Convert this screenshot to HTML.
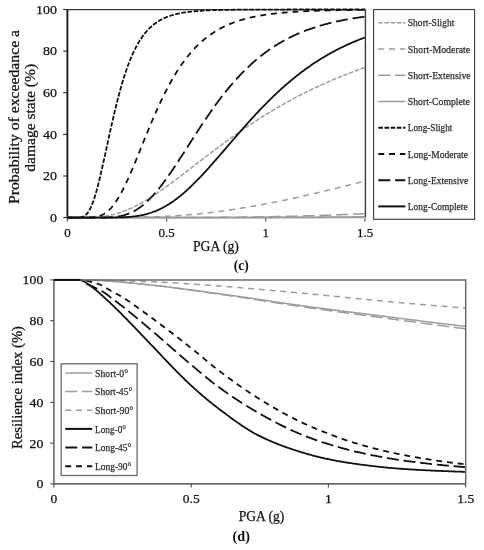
<!DOCTYPE html>
<html><head><meta charset="utf-8"><title>Fragility and resilience curves</title>
<style>html,body{margin:0;padding:0;background:#fff;}svg{display:block;}text{font-family:"Liberation Serif","DejaVu Serif",serif;}</style></head><body>
<svg width="484" height="550" viewBox="0 0 484 550">
<rect x="0" y="0" width="484" height="550" fill="#fff"/>
<g fill="#111" stroke="#111" stroke-width="0.25">
<g id="chart-c">
<line x1="67.4" y1="217.6" x2="365.0" y2="217.6" stroke="#999" stroke-width="1.5"/>
<path d="M67.4,9.6 H365.4 V217.6" fill="none" stroke="#3a3a3a" stroke-width="1.4"/>
<line x1="67.4" y1="9.5" x2="67.4" y2="217.6" stroke="#111" stroke-width="1.8"/>
<path d="M67.40,217.60 L67.50,217.60 L68.24,217.60 L68.99,217.60 L69.74,217.60 L70.48,217.60 L71.23,217.60 L71.97,217.60 L72.72,217.60 L73.46,217.60 L74.21,217.60 L74.96,217.60 L75.70,217.60 L76.45,217.60 L77.19,217.60 L77.94,217.60 L78.68,217.60 L79.43,217.60 L80.17,217.60 L80.92,217.60 L81.67,217.60 L82.41,217.60 L83.16,217.60 L83.90,217.60 L84.65,217.60 L85.39,217.60 L86.14,217.60 L86.89,217.60 L87.63,217.60 L88.38,217.60 L89.12,217.60 L89.87,217.60 L90.61,217.60 L91.36,217.60 L92.10,217.60 L92.85,217.60 L93.60,217.60 L94.34,217.60 L95.09,217.60 L95.83,217.60 L96.58,217.60 L97.32,217.60 L98.07,217.60 L98.82,217.60 L99.56,217.60 L100.31,217.60 L101.05,217.60 L101.80,217.60 L102.54,217.60 L103.29,217.60 L104.03,217.60 L104.78,217.60 L105.53,217.60 L106.27,217.60 L107.02,217.60 L107.76,217.60 L108.51,217.60 L109.25,217.60 L110.00,217.60 L110.74,217.60 L111.49,217.60 L112.24,217.60 L112.98,217.60 L113.73,217.60 L114.47,217.60 L115.22,217.60 L115.96,217.60 L116.71,217.60 L117.46,217.60 L118.20,217.60 L118.95,217.60 L119.69,217.60 L120.44,217.60 L121.18,217.60 L121.93,217.60 L122.67,217.60 L123.42,217.60 L124.17,217.60 L124.91,217.60 L125.66,217.60 L126.40,217.60 L127.15,217.60 L127.89,217.60 L128.64,217.60 L129.39,217.60 L130.13,217.60 L130.88,217.60 L131.62,217.60 L132.37,217.60 L133.11,217.60 L133.86,217.60 L134.60,217.60 L135.35,217.60 L136.10,217.60 L136.84,217.60 L137.59,217.60 L138.33,217.60 L139.08,217.60 L139.82,217.60 L140.57,217.60 L141.32,217.60 L142.06,217.60 L142.81,217.60 L143.55,217.60 L144.30,217.60 L145.04,217.60 L145.79,217.60 L146.53,217.60 L147.28,217.60 L148.03,217.60 L148.77,217.60 L149.52,217.60 L150.26,217.60 L151.01,217.60 L151.75,217.60 L152.50,217.60 L153.25,217.60 L153.99,217.60 L154.74,217.60 L155.48,217.60 L156.23,217.60 L156.97,217.60 L157.72,217.60 L158.46,217.60 L159.21,217.60 L159.96,217.60 L160.70,217.60 L161.45,217.60 L162.19,217.60 L162.94,217.60 L163.68,217.60 L164.43,217.60 L165.17,217.60 L165.92,217.60 L166.67,217.60 L167.41,217.60 L168.16,217.60 L168.90,217.60 L169.65,217.60 L170.39,217.60 L171.14,217.60 L171.89,217.60 L172.63,217.60 L173.38,217.60 L174.12,217.60 L174.87,217.60 L175.61,217.60 L176.36,217.60 L177.10,217.60 L177.85,217.60 L178.60,217.60 L179.34,217.60 L180.09,217.60 L180.83,217.60 L181.58,217.60 L182.32,217.60 L183.07,217.59 L183.82,217.59 L184.56,217.59 L185.31,217.59 L186.05,217.59 L186.80,217.59 L187.54,217.59 L188.29,217.59 L189.03,217.59 L189.78,217.59 L190.53,217.59 L191.27,217.59 L192.02,217.59 L192.76,217.59 L193.51,217.59 L194.25,217.59 L195.00,217.59 L195.75,217.59 L196.49,217.59 L197.24,217.59 L197.98,217.59 L198.73,217.59 L199.47,217.59 L200.22,217.59 L200.96,217.59 L201.71,217.59 L202.46,217.59 L203.20,217.59 L203.95,217.59 L204.69,217.59 L205.44,217.59 L206.18,217.58 L206.93,217.58 L207.68,217.58 L208.42,217.58 L209.17,217.58 L209.91,217.58 L210.66,217.58 L211.40,217.58 L212.15,217.58 L212.89,217.58 L213.64,217.58 L214.39,217.58 L215.13,217.58 L215.88,217.58 L216.62,217.58 L217.37,217.58 L218.11,217.58 L218.86,217.58 L219.60,217.57 L220.35,217.57 L221.10,217.57 L221.84,217.57 L222.59,217.57 L223.33,217.57 L224.08,217.57 L224.82,217.57 L225.57,217.57 L226.32,217.57 L227.06,217.57 L227.81,217.57 L228.55,217.57 L229.30,217.56 L230.04,217.56 L230.79,217.56 L231.53,217.56 L232.28,217.56 L233.03,217.56 L233.77,217.56 L234.52,217.56 L235.26,217.56 L236.01,217.56 L236.75,217.55 L237.50,217.55 L238.25,217.55 L238.99,217.55 L239.74,217.55 L240.48,217.55 L241.23,217.55 L241.97,217.55 L242.72,217.55 L243.46,217.54 L244.21,217.54 L244.96,217.54 L245.70,217.54 L246.45,217.54 L247.19,217.54 L247.94,217.54 L248.68,217.53 L249.43,217.53 L250.18,217.53 L250.92,217.53 L251.67,217.53 L252.41,217.53 L253.16,217.53 L253.90,217.52 L254.65,217.52 L255.39,217.52 L256.14,217.52 L256.89,217.52 L257.63,217.52 L258.38,217.51 L259.12,217.51 L259.87,217.51 L260.61,217.51 L261.36,217.51 L262.10,217.51 L262.85,217.50 L263.60,217.50 L264.34,217.50 L265.09,217.50 L265.83,217.50 L266.58,217.49 L267.32,217.49 L268.07,217.49 L268.82,217.49 L269.56,217.49 L270.31,217.48 L271.05,217.48 L271.80,217.48 L272.54,217.48 L273.29,217.47 L274.03,217.47 L274.78,217.47 L275.53,217.47 L276.27,217.46 L277.02,217.46 L277.76,217.46 L278.51,217.46 L279.25,217.45 L280.00,217.45 L280.75,217.45 L281.49,217.45 L282.24,217.44 L282.98,217.44 L283.73,217.44 L284.47,217.44 L285.22,217.43 L285.96,217.43 L286.71,217.43 L287.46,217.43 L288.20,217.42 L288.95,217.42 L289.69,217.42 L290.44,217.41 L291.18,217.41 L291.93,217.41 L292.68,217.40 L293.42,217.40 L294.17,217.40 L294.91,217.39 L295.66,217.39 L296.40,217.39 L297.15,217.38 L297.89,217.38 L298.64,217.38 L299.39,217.37 L300.13,217.37 L300.88,217.37 L301.62,217.36 L302.37,217.36 L303.11,217.36 L303.86,217.35 L304.61,217.35 L305.35,217.35 L306.10,217.34 L306.84,217.34 L307.59,217.33 L308.33,217.33 L309.08,217.33 L309.82,217.32 L310.57,217.32 L311.32,217.31 L312.06,217.31 L312.81,217.31 L313.55,217.30 L314.30,217.30 L315.04,217.29 L315.79,217.29 L316.53,217.28 L317.28,217.28 L318.03,217.28 L318.77,217.27 L319.52,217.27 L320.26,217.26 L321.01,217.26 L321.75,217.25 L322.50,217.25 L323.25,217.24 L323.99,217.24 L324.74,217.23 L325.48,217.23 L326.23,217.22 L326.97,217.22 L327.72,217.21 L328.46,217.21 L329.21,217.20 L329.96,217.20 L330.70,217.19 L331.45,217.19 L332.19,217.18 L332.94,217.18 L333.68,217.17 L334.43,217.17 L335.18,217.16 L335.92,217.16 L336.67,217.15 L337.41,217.14 L338.16,217.14 L338.90,217.13 L339.65,217.13 L340.39,217.12 L341.14,217.11 L341.89,217.11 L342.63,217.10 L343.38,217.10 L344.12,217.09 L344.87,217.08 L345.61,217.08 L346.36,217.07 L347.11,217.07 L347.85,217.06 L348.60,217.05 L349.34,217.05 L350.09,217.04 L350.83,217.03 L351.58,217.03 L352.32,217.02 L353.07,217.01 L353.82,217.01 L354.56,217.00 L355.31,216.99 L356.05,216.99 L356.80,216.98 L357.54,216.97 L358.29,216.97 L359.04,216.96 L359.78,216.95 L360.53,216.94 L361.27,216.94 L362.02,216.93 L362.76,216.92 L363.51,216.92 L364.25,216.91 L365.00,216.90" fill="none" stroke="#9c9c9c" stroke-width="1.8"/>
<path d="M67.40,217.60 L67.50,217.60 L68.24,217.60 L68.99,217.60 L69.74,217.60 L70.48,217.60 L71.23,217.60 L71.97,217.60 L72.72,217.60 L73.46,217.60 L74.21,217.60 L74.96,217.60 L75.70,217.60 L76.45,217.60 L77.19,217.60 L77.94,217.60 L78.68,217.60 L79.43,217.60 L80.17,217.60 L80.92,217.60 L81.67,217.60 L82.41,217.60 L83.16,217.60 L83.90,217.60 L84.65,217.60 L85.39,217.60 L86.14,217.60 L86.89,217.60 L87.63,217.60 L88.38,217.60 L89.12,217.60 L89.87,217.60 L90.61,217.60 L91.36,217.60 L92.10,217.60 L92.85,217.60 L93.60,217.60 L94.34,217.60 L95.09,217.60 L95.83,217.60 L96.58,217.60 L97.32,217.60 L98.07,217.60 L98.82,217.60 L99.56,217.60 L100.31,217.60 L101.05,217.60 L101.80,217.60 L102.54,217.60 L103.29,217.60 L104.03,217.60 L104.78,217.60 L105.53,217.60 L106.27,217.60 L107.02,217.60 L107.76,217.60 L108.51,217.60 L109.25,217.60 L110.00,217.60 L110.74,217.60 L111.49,217.60 L112.24,217.60 L112.98,217.60 L113.73,217.60 L114.47,217.60 L115.22,217.60 L115.96,217.60 L116.71,217.60 L117.46,217.60 L118.20,217.60 L118.95,217.60 L119.69,217.60 L120.44,217.60 L121.18,217.60 L121.93,217.60 L122.67,217.60 L123.42,217.60 L124.17,217.60 L124.91,217.60 L125.66,217.60 L126.40,217.60 L127.15,217.60 L127.89,217.60 L128.64,217.60 L129.39,217.60 L130.13,217.60 L130.88,217.60 L131.62,217.60 L132.37,217.60 L133.11,217.60 L133.86,217.60 L134.60,217.60 L135.35,217.60 L136.10,217.60 L136.84,217.60 L137.59,217.60 L138.33,217.60 L139.08,217.60 L139.82,217.60 L140.57,217.60 L141.32,217.59 L142.06,217.59 L142.81,217.59 L143.55,217.59 L144.30,217.59 L145.04,217.59 L145.79,217.59 L146.53,217.59 L147.28,217.59 L148.03,217.59 L148.77,217.59 L149.52,217.59 L150.26,217.59 L151.01,217.59 L151.75,217.59 L152.50,217.59 L153.25,217.59 L153.99,217.59 L154.74,217.59 L155.48,217.59 L156.23,217.59 L156.97,217.58 L157.72,217.58 L158.46,217.58 L159.21,217.58 L159.96,217.58 L160.70,217.58 L161.45,217.58 L162.19,217.58 L162.94,217.58 L163.68,217.58 L164.43,217.58 L165.17,217.57 L165.92,217.57 L166.67,217.57 L167.41,217.57 L168.16,217.57 L168.90,217.57 L169.65,217.57 L170.39,217.57 L171.14,217.56 L171.89,217.56 L172.63,217.56 L173.38,217.56 L174.12,217.56 L174.87,217.56 L175.61,217.56 L176.36,217.55 L177.10,217.55 L177.85,217.55 L178.60,217.55 L179.34,217.55 L180.09,217.54 L180.83,217.54 L181.58,217.54 L182.32,217.54 L183.07,217.54 L183.82,217.53 L184.56,217.53 L185.31,217.53 L186.05,217.53 L186.80,217.52 L187.54,217.52 L188.29,217.52 L189.03,217.52 L189.78,217.51 L190.53,217.51 L191.27,217.51 L192.02,217.51 L192.76,217.50 L193.51,217.50 L194.25,217.50 L195.00,217.49 L195.75,217.49 L196.49,217.49 L197.24,217.48 L197.98,217.48 L198.73,217.48 L199.47,217.47 L200.22,217.47 L200.96,217.47 L201.71,217.46 L202.46,217.46 L203.20,217.45 L203.95,217.45 L204.69,217.45 L205.44,217.44 L206.18,217.44 L206.93,217.43 L207.68,217.43 L208.42,217.43 L209.17,217.42 L209.91,217.42 L210.66,217.41 L211.40,217.41 L212.15,217.40 L212.89,217.40 L213.64,217.39 L214.39,217.39 L215.13,217.38 L215.88,217.38 L216.62,217.37 L217.37,217.36 L218.11,217.36 L218.86,217.35 L219.60,217.35 L220.35,217.34 L221.10,217.34 L221.84,217.33 L222.59,217.32 L223.33,217.32 L224.08,217.31 L224.82,217.30 L225.57,217.30 L226.32,217.29 L227.06,217.28 L227.81,217.28 L228.55,217.27 L229.30,217.26 L230.04,217.26 L230.79,217.25 L231.53,217.24 L232.28,217.23 L233.03,217.23 L233.77,217.22 L234.52,217.21 L235.26,217.20 L236.01,217.19 L236.75,217.19 L237.50,217.18 L238.25,217.17 L238.99,217.16 L239.74,217.15 L240.48,217.14 L241.23,217.13 L241.97,217.13 L242.72,217.12 L243.46,217.11 L244.21,217.10 L244.96,217.09 L245.70,217.08 L246.45,217.07 L247.19,217.06 L247.94,217.05 L248.68,217.04 L249.43,217.03 L250.18,217.02 L250.92,217.01 L251.67,217.00 L252.41,216.99 L253.16,216.98 L253.90,216.97 L254.65,216.95 L255.39,216.94 L256.14,216.93 L256.89,216.92 L257.63,216.91 L258.38,216.90 L259.12,216.88 L259.87,216.87 L260.61,216.86 L261.36,216.85 L262.10,216.84 L262.85,216.82 L263.60,216.81 L264.34,216.80 L265.09,216.79 L265.83,216.77 L266.58,216.76 L267.32,216.75 L268.07,216.73 L268.82,216.72 L269.56,216.70 L270.31,216.69 L271.05,216.68 L271.80,216.66 L272.54,216.65 L273.29,216.63 L274.03,216.62 L274.78,216.60 L275.53,216.59 L276.27,216.57 L277.02,216.56 L277.76,216.54 L278.51,216.53 L279.25,216.51 L280.00,216.50 L280.75,216.48 L281.49,216.46 L282.24,216.45 L282.98,216.43 L283.73,216.41 L284.47,216.40 L285.22,216.38 L285.96,216.36 L286.71,216.35 L287.46,216.33 L288.20,216.31 L288.95,216.29 L289.69,216.28 L290.44,216.26 L291.18,216.24 L291.93,216.22 L292.68,216.20 L293.42,216.19 L294.17,216.17 L294.91,216.15 L295.66,216.13 L296.40,216.11 L297.15,216.09 L297.89,216.07 L298.64,216.05 L299.39,216.03 L300.13,216.01 L300.88,215.99 L301.62,215.97 L302.37,215.95 L303.11,215.93 L303.86,215.91 L304.61,215.89 L305.35,215.87 L306.10,215.85 L306.84,215.83 L307.59,215.80 L308.33,215.78 L309.08,215.76 L309.82,215.74 L310.57,215.72 L311.32,215.69 L312.06,215.67 L312.81,215.65 L313.55,215.63 L314.30,215.60 L315.04,215.58 L315.79,215.56 L316.53,215.53 L317.28,215.51 L318.03,215.48 L318.77,215.46 L319.52,215.44 L320.26,215.41 L321.01,215.39 L321.75,215.36 L322.50,215.34 L323.25,215.31 L323.99,215.29 L324.74,215.26 L325.48,215.24 L326.23,215.21 L326.97,215.19 L327.72,215.16 L328.46,215.13 L329.21,215.11 L329.96,215.08 L330.70,215.05 L331.45,215.03 L332.19,215.00 L332.94,214.97 L333.68,214.95 L334.43,214.92 L335.18,214.89 L335.92,214.86 L336.67,214.84 L337.41,214.81 L338.16,214.78 L338.90,214.75 L339.65,214.72 L340.39,214.69 L341.14,214.66 L341.89,214.63 L342.63,214.61 L343.38,214.58 L344.12,214.55 L344.87,214.52 L345.61,214.49 L346.36,214.46 L347.11,214.43 L347.85,214.40 L348.60,214.36 L349.34,214.33 L350.09,214.30 L350.83,214.27 L351.58,214.24 L352.32,214.21 L353.07,214.18 L353.82,214.14 L354.56,214.11 L355.31,214.08 L356.05,214.05 L356.80,214.02 L357.54,213.98 L358.29,213.95 L359.04,213.92 L359.78,213.88 L360.53,213.85 L361.27,213.82 L362.02,213.78 L362.76,213.75 L363.51,213.71 L364.25,213.68 L365.00,213.65" fill="none" stroke="#9c9c9c" stroke-width="1.5" stroke-dasharray="12,4.8"/>
<path d="M67.40,217.60 L67.50,217.60 L68.24,217.60 L68.99,217.60 L69.74,217.60 L70.48,217.60 L71.23,217.60 L71.97,217.60 L72.72,217.60 L73.46,217.60 L74.21,217.60 L74.96,217.60 L75.70,217.60 L76.45,217.60 L77.19,217.60 L77.94,217.60 L78.68,217.60 L79.43,217.60 L80.17,217.60 L80.92,217.60 L81.67,217.60 L82.41,217.60 L83.16,217.60 L83.90,217.60 L84.65,217.60 L85.39,217.60 L86.14,217.60 L86.89,217.60 L87.63,217.60 L88.38,217.60 L89.12,217.60 L89.87,217.60 L90.61,217.60 L91.36,217.60 L92.10,217.60 L92.85,217.60 L93.60,217.60 L94.34,217.60 L95.09,217.60 L95.83,217.60 L96.58,217.60 L97.32,217.60 L98.07,217.60 L98.82,217.60 L99.56,217.60 L100.31,217.59 L101.05,217.59 L101.80,217.59 L102.54,217.59 L103.29,217.59 L104.03,217.59 L104.78,217.59 L105.53,217.59 L106.27,217.59 L107.02,217.58 L107.76,217.58 L108.51,217.58 L109.25,217.58 L110.00,217.58 L110.74,217.57 L111.49,217.57 L112.24,217.57 L112.98,217.57 L113.73,217.56 L114.47,217.56 L115.22,217.56 L115.96,217.55 L116.71,217.55 L117.46,217.54 L118.20,217.54 L118.95,217.54 L119.69,217.53 L120.44,217.53 L121.18,217.52 L121.93,217.51 L122.67,217.51 L123.42,217.50 L124.17,217.49 L124.91,217.49 L125.66,217.48 L126.40,217.47 L127.15,217.46 L127.89,217.45 L128.64,217.45 L129.39,217.44 L130.13,217.43 L130.88,217.42 L131.62,217.41 L132.37,217.39 L133.11,217.38 L133.86,217.37 L134.60,217.36 L135.35,217.35 L136.10,217.33 L136.84,217.32 L137.59,217.30 L138.33,217.29 L139.08,217.27 L139.82,217.26 L140.57,217.24 L141.32,217.22 L142.06,217.21 L142.81,217.19 L143.55,217.17 L144.30,217.15 L145.04,217.13 L145.79,217.11 L146.53,217.09 L147.28,217.07 L148.03,217.05 L148.77,217.02 L149.52,217.00 L150.26,216.98 L151.01,216.95 L151.75,216.93 L152.50,216.90 L153.25,216.87 L153.99,216.85 L154.74,216.82 L155.48,216.79 L156.23,216.76 L156.97,216.73 L157.72,216.70 L158.46,216.67 L159.21,216.64 L159.96,216.60 L160.70,216.57 L161.45,216.54 L162.19,216.50 L162.94,216.47 L163.68,216.43 L164.43,216.39 L165.17,216.35 L165.92,216.32 L166.67,216.28 L167.41,216.24 L168.16,216.19 L168.90,216.15 L169.65,216.11 L170.39,216.07 L171.14,216.02 L171.89,215.98 L172.63,215.93 L173.38,215.89 L174.12,215.84 L174.87,215.79 L175.61,215.74 L176.36,215.69 L177.10,215.64 L177.85,215.59 L178.60,215.54 L179.34,215.49 L180.09,215.43 L180.83,215.38 L181.58,215.32 L182.32,215.27 L183.07,215.21 L183.82,215.15 L184.56,215.09 L185.31,215.03 L186.05,214.97 L186.80,214.91 L187.54,214.85 L188.29,214.79 L189.03,214.73 L189.78,214.66 L190.53,214.60 L191.27,214.53 L192.02,214.46 L192.76,214.40 L193.51,214.33 L194.25,214.26 L195.00,214.19 L195.75,214.12 L196.49,214.04 L197.24,213.97 L197.98,213.90 L198.73,213.82 L199.47,213.75 L200.22,213.67 L200.96,213.59 L201.71,213.52 L202.46,213.44 L203.20,213.36 L203.95,213.28 L204.69,213.20 L205.44,213.12 L206.18,213.03 L206.93,212.95 L207.68,212.86 L208.42,212.78 L209.17,212.69 L209.91,212.61 L210.66,212.52 L211.40,212.43 L212.15,212.34 L212.89,212.25 L213.64,212.16 L214.39,212.07 L215.13,211.97 L215.88,211.88 L216.62,211.79 L217.37,211.69 L218.11,211.59 L218.86,211.50 L219.60,211.40 L220.35,211.30 L221.10,211.20 L221.84,211.10 L222.59,211.00 L223.33,210.90 L224.08,210.80 L224.82,210.69 L225.57,210.59 L226.32,210.49 L227.06,210.38 L227.81,210.27 L228.55,210.17 L229.30,210.06 L230.04,209.95 L230.79,209.84 L231.53,209.73 L232.28,209.62 L233.03,209.51 L233.77,209.39 L234.52,209.28 L235.26,209.17 L236.01,209.05 L236.75,208.94 L237.50,208.82 L238.25,208.70 L238.99,208.59 L239.74,208.47 L240.48,208.35 L241.23,208.23 L241.97,208.11 L242.72,207.99 L243.46,207.86 L244.21,207.74 L244.96,207.62 L245.70,207.49 L246.45,207.37 L247.19,207.24 L247.94,207.12 L248.68,206.99 L249.43,206.86 L250.18,206.73 L250.92,206.60 L251.67,206.47 L252.41,206.34 L253.16,206.21 L253.90,206.08 L254.65,205.95 L255.39,205.81 L256.14,205.68 L256.89,205.55 L257.63,205.41 L258.38,205.27 L259.12,205.14 L259.87,205.00 L260.61,204.86 L261.36,204.72 L262.10,204.59 L262.85,204.45 L263.60,204.31 L264.34,204.16 L265.09,204.02 L265.83,203.88 L266.58,203.74 L267.32,203.59 L268.07,203.45 L268.82,203.31 L269.56,203.16 L270.31,203.01 L271.05,202.87 L271.80,202.72 L272.54,202.57 L273.29,202.43 L274.03,202.28 L274.78,202.13 L275.53,201.98 L276.27,201.83 L277.02,201.68 L277.76,201.52 L278.51,201.37 L279.25,201.22 L280.00,201.07 L280.75,200.91 L281.49,200.76 L282.24,200.60 L282.98,200.45 L283.73,200.29 L284.47,200.14 L285.22,199.98 L285.96,199.82 L286.71,199.66 L287.46,199.51 L288.20,199.35 L288.95,199.19 L289.69,199.03 L290.44,198.87 L291.18,198.71 L291.93,198.55 L292.68,198.38 L293.42,198.22 L294.17,198.06 L294.91,197.90 L295.66,197.73 L296.40,197.57 L297.15,197.40 L297.89,197.24 L298.64,197.07 L299.39,196.91 L300.13,196.74 L300.88,196.57 L301.62,196.41 L302.37,196.24 L303.11,196.07 L303.86,195.90 L304.61,195.73 L305.35,195.56 L306.10,195.39 L306.84,195.22 L307.59,195.05 L308.33,194.88 L309.08,194.71 L309.82,194.54 L310.57,194.37 L311.32,194.19 L312.06,194.02 L312.81,193.85 L313.55,193.67 L314.30,193.50 L315.04,193.33 L315.79,193.15 L316.53,192.98 L317.28,192.80 L318.03,192.62 L318.77,192.45 L319.52,192.27 L320.26,192.09 L321.01,191.92 L321.75,191.74 L322.50,191.56 L323.25,191.38 L323.99,191.20 L324.74,191.03 L325.48,190.85 L326.23,190.67 L326.97,190.49 L327.72,190.31 L328.46,190.13 L329.21,189.95 L329.96,189.76 L330.70,189.58 L331.45,189.40 L332.19,189.22 L332.94,189.04 L333.68,188.85 L334.43,188.67 L335.18,188.49 L335.92,188.31 L336.67,188.12 L337.41,187.94 L338.16,187.75 L338.90,187.57 L339.65,187.38 L340.39,187.20 L341.14,187.01 L341.89,186.83 L342.63,186.64 L343.38,186.46 L344.12,186.27 L344.87,186.09 L345.61,185.90 L346.36,185.71 L347.11,185.52 L347.85,185.34 L348.60,185.15 L349.34,184.96 L350.09,184.77 L350.83,184.59 L351.58,184.40 L352.32,184.21 L353.07,184.02 L353.82,183.83 L354.56,183.64 L355.31,183.45 L356.05,183.26 L356.80,183.07 L357.54,182.88 L358.29,182.69 L359.04,182.50 L359.78,182.31 L360.53,182.12 L361.27,181.93 L362.02,181.74 L362.76,181.55 L363.51,181.36 L364.25,181.17 L365.00,180.97" fill="none" stroke="#9c9c9c" stroke-width="1.5" stroke-dasharray="5.9,4.9"/>
<path d="M67.40,217.60 L67.50,217.60 L68.24,217.60 L68.99,217.60 L69.74,217.60 L70.48,217.60 L71.23,217.60 L71.97,217.60 L72.72,217.60 L73.46,217.60 L74.21,217.60 L74.96,217.60 L75.70,217.60 L76.45,217.60 L77.19,217.60 L77.94,217.60 L78.68,217.60 L79.43,217.60 L80.17,217.60 L80.92,217.59 L81.67,217.59 L82.41,217.59 L83.16,217.58 L83.90,217.58 L84.65,217.57 L85.39,217.56 L86.14,217.55 L86.89,217.54 L87.63,217.53 L88.38,217.51 L89.12,217.49 L89.87,217.47 L90.61,217.45 L91.36,217.42 L92.10,217.40 L92.85,217.36 L93.60,217.33 L94.34,217.29 L95.09,217.24 L95.83,217.20 L96.58,217.14 L97.32,217.09 L98.07,217.03 L98.82,216.96 L99.56,216.89 L100.31,216.81 L101.05,216.73 L101.80,216.65 L102.54,216.55 L103.29,216.46 L104.03,216.35 L104.78,216.24 L105.53,216.13 L106.27,216.01 L107.02,215.88 L107.76,215.74 L108.51,215.60 L109.25,215.46 L110.00,215.30 L110.74,215.14 L111.49,214.98 L112.24,214.80 L112.98,214.62 L113.73,214.44 L114.47,214.24 L115.22,214.04 L115.96,213.84 L116.71,213.62 L117.46,213.40 L118.20,213.18 L118.95,212.94 L119.69,212.70 L120.44,212.46 L121.18,212.20 L121.93,211.94 L122.67,211.67 L123.42,211.40 L124.17,211.12 L124.91,210.83 L125.66,210.54 L126.40,210.24 L127.15,209.93 L127.89,209.62 L128.64,209.30 L129.39,208.98 L130.13,208.65 L130.88,208.31 L131.62,207.96 L132.37,207.61 L133.11,207.26 L133.86,206.90 L134.60,206.53 L135.35,206.16 L136.10,205.78 L136.84,205.40 L137.59,205.01 L138.33,204.61 L139.08,204.21 L139.82,203.81 L140.57,203.39 L141.32,202.98 L142.06,202.56 L142.81,202.13 L143.55,201.70 L144.30,201.27 L145.04,200.83 L145.79,200.38 L146.53,199.93 L147.28,199.48 L148.03,199.02 L148.77,198.56 L149.52,198.10 L150.26,197.63 L151.01,197.15 L151.75,196.68 L152.50,196.19 L153.25,195.71 L153.99,195.22 L154.74,194.73 L155.48,194.23 L156.23,193.73 L156.97,193.23 L157.72,192.73 L158.46,192.22 L159.21,191.71 L159.96,191.19 L160.70,190.68 L161.45,190.16 L162.19,189.63 L162.94,189.11 L163.68,188.58 L164.43,188.05 L165.17,187.52 L165.92,186.98 L166.67,186.44 L167.41,185.90 L168.16,185.36 L168.90,184.82 L169.65,184.27 L170.39,183.73 L171.14,183.18 L171.89,182.63 L172.63,182.07 L173.38,181.52 L174.12,180.96 L174.87,180.41 L175.61,179.85 L176.36,179.29 L177.10,178.73 L177.85,178.16 L178.60,177.60 L179.34,177.03 L180.09,176.47 L180.83,175.90 L181.58,175.33 L182.32,174.77 L183.07,174.20 L183.82,173.63 L184.56,173.06 L185.31,172.49 L186.05,171.91 L186.80,171.34 L187.54,170.77 L188.29,170.19 L189.03,169.62 L189.78,169.05 L190.53,168.47 L191.27,167.90 L192.02,167.32 L192.76,166.75 L193.51,166.17 L194.25,165.60 L195.00,165.02 L195.75,164.45 L196.49,163.88 L197.24,163.30 L197.98,162.73 L198.73,162.15 L199.47,161.58 L200.22,161.00 L200.96,160.43 L201.71,159.86 L202.46,159.29 L203.20,158.71 L203.95,158.14 L204.69,157.57 L205.44,157.00 L206.18,156.43 L206.93,155.86 L207.68,155.29 L208.42,154.72 L209.17,154.16 L209.91,153.59 L210.66,153.02 L211.40,152.46 L212.15,151.90 L212.89,151.33 L213.64,150.77 L214.39,150.21 L215.13,149.65 L215.88,149.09 L216.62,148.53 L217.37,147.97 L218.11,147.41 L218.86,146.86 L219.60,146.30 L220.35,145.75 L221.10,145.20 L221.84,144.65 L222.59,144.10 L223.33,143.55 L224.08,143.00 L224.82,142.45 L225.57,141.91 L226.32,141.36 L227.06,140.82 L227.81,140.28 L228.55,139.74 L229.30,139.20 L230.04,138.66 L230.79,138.12 L231.53,137.59 L232.28,137.06 L233.03,136.52 L233.77,135.99 L234.52,135.46 L235.26,134.93 L236.01,134.41 L236.75,133.88 L237.50,133.36 L238.25,132.84 L238.99,132.32 L239.74,131.80 L240.48,131.28 L241.23,130.76 L241.97,130.25 L242.72,129.74 L243.46,129.22 L244.21,128.71 L244.96,128.21 L245.70,127.70 L246.45,127.19 L247.19,126.69 L247.94,126.19 L248.68,125.69 L249.43,125.19 L250.18,124.69 L250.92,124.20 L251.67,123.70 L252.41,123.21 L253.16,122.72 L253.90,122.23 L254.65,121.74 L255.39,121.26 L256.14,120.77 L256.89,120.29 L257.63,119.81 L258.38,119.33 L259.12,118.85 L259.87,118.38 L260.61,117.90 L261.36,117.43 L262.10,116.96 L262.85,116.49 L263.60,116.02 L264.34,115.56 L265.09,115.09 L265.83,114.63 L266.58,114.17 L267.32,113.71 L268.07,113.25 L268.82,112.80 L269.56,112.34 L270.31,111.89 L271.05,111.44 L271.80,110.99 L272.54,110.55 L273.29,110.10 L274.03,109.66 L274.78,109.22 L275.53,108.78 L276.27,108.34 L277.02,107.90 L277.76,107.47 L278.51,107.03 L279.25,106.60 L280.00,106.17 L280.75,105.74 L281.49,105.32 L282.24,104.89 L282.98,104.47 L283.73,104.05 L284.47,103.63 L285.22,103.21 L285.96,102.79 L286.71,102.38 L287.46,101.97 L288.20,101.55 L288.95,101.14 L289.69,100.74 L290.44,100.33 L291.18,99.93 L291.93,99.52 L292.68,99.12 L293.42,98.72 L294.17,98.32 L294.91,97.93 L295.66,97.53 L296.40,97.14 L297.15,96.75 L297.89,96.36 L298.64,95.97 L299.39,95.59 L300.13,95.20 L300.88,94.82 L301.62,94.44 L302.37,94.06 L303.11,93.68 L303.86,93.30 L304.61,92.93 L305.35,92.55 L306.10,92.18 L306.84,91.81 L307.59,91.44 L308.33,91.08 L309.08,90.71 L309.82,90.35 L310.57,89.99 L311.32,89.63 L312.06,89.27 L312.81,88.91 L313.55,88.55 L314.30,88.20 L315.04,87.85 L315.79,87.50 L316.53,87.15 L317.28,86.80 L318.03,86.45 L318.77,86.11 L319.52,85.76 L320.26,85.42 L321.01,85.08 L321.75,84.74 L322.50,84.41 L323.25,84.07 L323.99,83.74 L324.74,83.40 L325.48,83.07 L326.23,82.74 L326.97,82.41 L327.72,82.09 L328.46,81.76 L329.21,81.44 L329.96,81.11 L330.70,80.79 L331.45,80.47 L332.19,80.15 L332.94,79.84 L333.68,79.52 L334.43,79.21 L335.18,78.90 L335.92,78.59 L336.67,78.28 L337.41,77.97 L338.16,77.66 L338.90,77.36 L339.65,77.05 L340.39,76.75 L341.14,76.45 L341.89,76.15 L342.63,75.85 L343.38,75.55 L344.12,75.26 L344.87,74.96 L345.61,74.67 L346.36,74.38 L347.11,74.09 L347.85,73.80 L348.60,73.51 L349.34,73.22 L350.09,72.94 L350.83,72.66 L351.58,72.37 L352.32,72.09 L353.07,71.81 L353.82,71.53 L354.56,71.26 L355.31,70.98 L356.05,70.71 L356.80,70.43 L357.54,70.16 L358.29,69.89 L359.04,69.62 L359.78,69.35 L360.53,69.09 L361.27,68.82 L362.02,68.55 L362.76,68.29 L363.51,68.03 L364.25,67.77 L365.00,67.51" fill="none" stroke="#9c9c9c" stroke-width="1.5" stroke-dasharray="4.6,1.6"/>
<path d="M67.40,217.60 L67.50,217.60 L68.24,217.60 L68.99,217.60 L69.74,217.60 L70.48,217.60 L71.23,217.60 L71.97,217.60 L72.72,217.60 L73.46,217.60 L74.21,217.60 L74.96,217.60 L75.70,217.60 L76.45,217.60 L77.19,217.60 L77.94,217.60 L78.68,217.60 L79.43,217.60 L80.17,217.60 L80.92,217.60 L81.67,217.60 L82.41,217.60 L83.16,217.60 L83.90,217.60 L84.65,217.60 L85.39,217.60 L86.14,217.60 L86.89,217.60 L87.63,217.60 L88.38,217.60 L89.12,217.60 L89.87,217.60 L90.61,217.60 L91.36,217.60 L92.10,217.60 L92.85,217.60 L93.60,217.60 L94.34,217.60 L95.09,217.60 L95.83,217.60 L96.58,217.60 L97.32,217.60 L98.07,217.60 L98.82,217.60 L99.56,217.60 L100.31,217.60 L101.05,217.60 L101.80,217.60 L102.54,217.60 L103.29,217.59 L104.03,217.59 L104.78,217.59 L105.53,217.59 L106.27,217.59 L107.02,217.59 L107.76,217.58 L108.51,217.58 L109.25,217.58 L110.00,217.57 L110.74,217.57 L111.49,217.56 L112.24,217.55 L112.98,217.55 L113.73,217.54 L114.47,217.53 L115.22,217.52 L115.96,217.50 L116.71,217.49 L117.46,217.48 L118.20,217.46 L118.95,217.44 L119.69,217.42 L120.44,217.40 L121.18,217.37 L121.93,217.35 L122.67,217.32 L123.42,217.29 L124.17,217.25 L124.91,217.22 L125.66,217.17 L126.40,217.13 L127.15,217.08 L127.89,217.03 L128.64,216.98 L129.39,216.92 L130.13,216.86 L130.88,216.79 L131.62,216.72 L132.37,216.65 L133.11,216.57 L133.86,216.48 L134.60,216.39 L135.35,216.29 L136.10,216.19 L136.84,216.08 L137.59,215.97 L138.33,215.85 L139.08,215.73 L139.82,215.60 L140.57,215.46 L141.32,215.31 L142.06,215.16 L142.81,215.00 L143.55,214.84 L144.30,214.66 L145.04,214.48 L145.79,214.30 L146.53,214.10 L147.28,213.90 L148.03,213.68 L148.77,213.46 L149.52,213.24 L150.26,213.00 L151.01,212.76 L151.75,212.50 L152.50,212.24 L153.25,211.97 L153.99,211.69 L154.74,211.40 L155.48,211.10 L156.23,210.80 L156.97,210.48 L157.72,210.15 L158.46,209.82 L159.21,209.48 L159.96,209.12 L160.70,208.76 L161.45,208.39 L162.19,208.01 L162.94,207.62 L163.68,207.22 L164.43,206.81 L165.17,206.39 L165.92,205.96 L166.67,205.52 L167.41,205.08 L168.16,204.62 L168.90,204.16 L169.65,203.68 L170.39,203.20 L171.14,202.70 L171.89,202.20 L172.63,201.69 L173.38,201.17 L174.12,200.64 L174.87,200.10 L175.61,199.55 L176.36,198.99 L177.10,198.43 L177.85,197.85 L178.60,197.27 L179.34,196.68 L180.09,196.08 L180.83,195.47 L181.58,194.85 L182.32,194.23 L183.07,193.60 L183.82,192.96 L184.56,192.31 L185.31,191.65 L186.05,190.99 L186.80,190.32 L187.54,189.64 L188.29,188.95 L189.03,188.26 L189.78,187.56 L190.53,186.86 L191.27,186.14 L192.02,185.42 L192.76,184.70 L193.51,183.97 L194.25,183.23 L195.00,182.48 L195.75,181.73 L196.49,180.98 L197.24,180.22 L197.98,179.45 L198.73,178.68 L199.47,177.90 L200.22,177.12 L200.96,176.33 L201.71,175.54 L202.46,174.75 L203.20,173.95 L203.95,173.14 L204.69,172.33 L205.44,171.52 L206.18,170.70 L206.93,169.88 L207.68,169.06 L208.42,168.23 L209.17,167.40 L209.91,166.57 L210.66,165.73 L211.40,164.89 L212.15,164.05 L212.89,163.20 L213.64,162.36 L214.39,161.51 L215.13,160.65 L215.88,159.80 L216.62,158.95 L217.37,158.09 L218.11,157.23 L218.86,156.37 L219.60,155.51 L220.35,154.64 L221.10,153.78 L221.84,152.92 L222.59,152.05 L223.33,151.18 L224.08,150.32 L224.82,149.45 L225.57,148.58 L226.32,147.71 L227.06,146.84 L227.81,145.97 L228.55,145.11 L229.30,144.24 L230.04,143.37 L230.79,142.50 L231.53,141.64 L232.28,140.77 L233.03,139.90 L233.77,139.04 L234.52,138.17 L235.26,137.31 L236.01,136.45 L236.75,135.59 L237.50,134.73 L238.25,133.87 L238.99,133.02 L239.74,132.16 L240.48,131.31 L241.23,130.46 L241.97,129.61 L242.72,128.76 L243.46,127.91 L244.21,127.07 L244.96,126.23 L245.70,125.39 L246.45,124.55 L247.19,123.72 L247.94,122.89 L248.68,122.06 L249.43,121.23 L250.18,120.40 L250.92,119.58 L251.67,118.76 L252.41,117.95 L253.16,117.13 L253.90,116.32 L254.65,115.52 L255.39,114.71 L256.14,113.91 L256.89,113.11 L257.63,112.32 L258.38,111.52 L259.12,110.74 L259.87,109.95 L260.61,109.17 L261.36,108.39 L262.10,107.61 L262.85,106.84 L263.60,106.07 L264.34,105.31 L265.09,104.55 L265.83,103.79 L266.58,103.04 L267.32,102.29 L268.07,101.54 L268.82,100.80 L269.56,100.06 L270.31,99.32 L271.05,98.59 L271.80,97.87 L272.54,97.14 L273.29,96.42 L274.03,95.71 L274.78,95.00 L275.53,94.29 L276.27,93.58 L277.02,92.88 L277.76,92.19 L278.51,91.50 L279.25,90.81 L280.00,90.12 L280.75,89.45 L281.49,88.77 L282.24,88.10 L282.98,87.43 L283.73,86.77 L284.47,86.11 L285.22,85.45 L285.96,84.80 L286.71,84.16 L287.46,83.51 L288.20,82.87 L288.95,82.24 L289.69,81.61 L290.44,80.98 L291.18,80.36 L291.93,79.74 L292.68,79.13 L293.42,78.52 L294.17,77.91 L294.91,77.31 L295.66,76.72 L296.40,76.12 L297.15,75.53 L297.89,74.95 L298.64,74.37 L299.39,73.79 L300.13,73.22 L300.88,72.65 L301.62,72.08 L302.37,71.52 L303.11,70.97 L303.86,70.42 L304.61,69.87 L305.35,69.32 L306.10,68.78 L306.84,68.25 L307.59,67.71 L308.33,67.19 L309.08,66.66 L309.82,66.14 L310.57,65.63 L311.32,65.11 L312.06,64.61 L312.81,64.10 L313.55,63.60 L314.30,63.10 L315.04,62.61 L315.79,62.12 L316.53,61.64 L317.28,61.16 L318.03,60.68 L318.77,60.20 L319.52,59.73 L320.26,59.27 L321.01,58.81 L321.75,58.35 L322.50,57.89 L323.25,57.44 L323.99,56.99 L324.74,56.55 L325.48,56.11 L326.23,55.67 L326.97,55.24 L327.72,54.81 L328.46,54.38 L329.21,53.96 L329.96,53.54 L330.70,53.12 L331.45,52.71 L332.19,52.30 L332.94,51.90 L333.68,51.50 L334.43,51.10 L335.18,50.70 L335.92,50.31 L336.67,49.92 L337.41,49.54 L338.16,49.16 L338.90,48.78 L339.65,48.40 L340.39,48.03 L341.14,47.66 L341.89,47.30 L342.63,46.94 L343.38,46.58 L344.12,46.22 L344.87,45.87 L345.61,45.52 L346.36,45.17 L347.11,44.83 L347.85,44.49 L348.60,44.15 L349.34,43.82 L350.09,43.48 L350.83,43.15 L351.58,42.83 L352.32,42.51 L353.07,42.19 L353.82,41.87 L354.56,41.56 L355.31,41.24 L356.05,40.94 L356.80,40.63 L357.54,40.33 L358.29,40.03 L359.04,39.73 L359.78,39.43 L360.53,39.14 L361.27,38.85 L362.02,38.57 L362.76,38.28 L363.51,38.00 L364.25,37.72 L365.00,37.45" fill="none" stroke="#111" stroke-width="1.8"/>
<path d="M67.40,217.60 L67.50,217.60 L68.24,217.60 L68.99,217.60 L69.74,217.60 L70.48,217.60 L71.23,217.60 L71.97,217.60 L72.72,217.60 L73.46,217.60 L74.21,217.60 L74.96,217.60 L75.70,217.60 L76.45,217.60 L77.19,217.60 L77.94,217.60 L78.68,217.60 L79.43,217.60 L80.17,217.60 L80.92,217.60 L81.67,217.60 L82.41,217.60 L83.16,217.60 L83.90,217.60 L84.65,217.60 L85.39,217.60 L86.14,217.60 L86.89,217.60 L87.63,217.60 L88.38,217.60 L89.12,217.60 L89.87,217.60 L90.61,217.60 L91.36,217.60 L92.10,217.60 L92.85,217.60 L93.60,217.60 L94.34,217.60 L95.09,217.59 L95.83,217.59 L96.58,217.59 L97.32,217.59 L98.07,217.58 L98.82,217.58 L99.56,217.57 L100.31,217.57 L101.05,217.56 L101.80,217.55 L102.54,217.54 L103.29,217.53 L104.03,217.51 L104.78,217.50 L105.53,217.48 L106.27,217.45 L107.02,217.43 L107.76,217.40 L108.51,217.37 L109.25,217.33 L110.00,217.29 L110.74,217.24 L111.49,217.19 L112.24,217.13 L112.98,217.07 L113.73,217.00 L114.47,216.92 L115.22,216.84 L115.96,216.75 L116.71,216.65 L117.46,216.54 L118.20,216.42 L118.95,216.30 L119.69,216.16 L120.44,216.01 L121.18,215.86 L121.93,215.69 L122.67,215.51 L123.42,215.32 L124.17,215.12 L124.91,214.90 L125.66,214.67 L126.40,214.43 L127.15,214.18 L127.89,213.91 L128.64,213.62 L129.39,213.32 L130.13,213.01 L130.88,212.68 L131.62,212.34 L132.37,211.98 L133.11,211.61 L133.86,211.22 L134.60,210.81 L135.35,210.39 L136.10,209.95 L136.84,209.49 L137.59,209.02 L138.33,208.53 L139.08,208.02 L139.82,207.50 L140.57,206.96 L141.32,206.40 L142.06,205.83 L142.81,205.24 L143.55,204.63 L144.30,204.01 L145.04,203.37 L145.79,202.71 L146.53,202.04 L147.28,201.35 L148.03,200.64 L148.77,199.92 L149.52,199.18 L150.26,198.42 L151.01,197.65 L151.75,196.87 L152.50,196.07 L153.25,195.25 L153.99,194.42 L154.74,193.58 L155.48,192.72 L156.23,191.85 L156.97,190.96 L157.72,190.06 L158.46,189.15 L159.21,188.22 L159.96,187.29 L160.70,186.34 L161.45,185.37 L162.19,184.40 L162.94,183.42 L163.68,182.42 L164.43,181.41 L165.17,180.40 L165.92,179.37 L166.67,178.34 L167.41,177.29 L168.16,176.24 L168.90,175.18 L169.65,174.10 L170.39,173.03 L171.14,171.94 L171.89,170.85 L172.63,169.75 L173.38,168.64 L174.12,167.53 L174.87,166.41 L175.61,165.29 L176.36,164.16 L177.10,163.03 L177.85,161.89 L178.60,160.75 L179.34,159.61 L180.09,158.46 L180.83,157.31 L181.58,156.15 L182.32,155.00 L183.07,153.84 L183.82,152.68 L184.56,151.52 L185.31,150.35 L186.05,149.19 L186.80,148.02 L187.54,146.86 L188.29,145.69 L189.03,144.53 L189.78,143.36 L190.53,142.20 L191.27,141.03 L192.02,139.87 L192.76,138.71 L193.51,137.55 L194.25,136.40 L195.00,135.24 L195.75,134.09 L196.49,132.94 L197.24,131.79 L197.98,130.65 L198.73,129.51 L199.47,128.37 L200.22,127.23 L200.96,126.10 L201.71,124.98 L202.46,123.85 L203.20,122.74 L203.95,121.62 L204.69,120.51 L205.44,119.41 L206.18,118.31 L206.93,117.22 L207.68,116.13 L208.42,115.04 L209.17,113.97 L209.91,112.89 L210.66,111.83 L211.40,110.76 L212.15,109.71 L212.89,108.66 L213.64,107.62 L214.39,106.58 L215.13,105.55 L215.88,104.53 L216.62,103.51 L217.37,102.50 L218.11,101.49 L218.86,100.50 L219.60,99.50 L220.35,98.52 L221.10,97.54 L221.84,96.57 L222.59,95.61 L223.33,94.66 L224.08,93.71 L224.82,92.76 L225.57,91.83 L226.32,90.90 L227.06,89.98 L227.81,89.07 L228.55,88.17 L229.30,87.27 L230.04,86.38 L230.79,85.49 L231.53,84.62 L232.28,83.75 L233.03,82.89 L233.77,82.04 L234.52,81.19 L235.26,80.35 L236.01,79.52 L236.75,78.70 L237.50,77.88 L238.25,77.07 L238.99,76.27 L239.74,75.48 L240.48,74.69 L241.23,73.91 L241.97,73.14 L242.72,72.38 L243.46,71.62 L244.21,70.87 L244.96,70.13 L245.70,69.40 L246.45,68.67 L247.19,67.95 L247.94,67.23 L248.68,66.53 L249.43,65.83 L250.18,65.14 L250.92,64.45 L251.67,63.78 L252.41,63.11 L253.16,62.44 L253.90,61.79 L254.65,61.14 L255.39,60.49 L256.14,59.86 L256.89,59.23 L257.63,58.61 L258.38,57.99 L259.12,57.38 L259.87,56.78 L260.61,56.19 L261.36,55.60 L262.10,55.01 L262.85,54.44 L263.60,53.87 L264.34,53.31 L265.09,52.75 L265.83,52.20 L266.58,51.65 L267.32,51.12 L268.07,50.58 L268.82,50.06 L269.56,49.54 L270.31,49.02 L271.05,48.52 L271.80,48.01 L272.54,47.52 L273.29,47.03 L274.03,46.54 L274.78,46.06 L275.53,45.59 L276.27,45.12 L277.02,44.66 L277.76,44.20 L278.51,43.75 L279.25,43.31 L280.00,42.86 L280.75,42.43 L281.49,42.00 L282.24,41.57 L282.98,41.15 L283.73,40.74 L284.47,40.33 L285.22,39.93 L285.96,39.53 L286.71,39.13 L287.46,38.74 L288.20,38.36 L288.95,37.98 L289.69,37.60 L290.44,37.23 L291.18,36.86 L291.93,36.50 L292.68,36.14 L293.42,35.79 L294.17,35.44 L294.91,35.10 L295.66,34.76 L296.40,34.42 L297.15,34.09 L297.89,33.76 L298.64,33.44 L299.39,33.12 L300.13,32.81 L300.88,32.50 L301.62,32.19 L302.37,31.89 L303.11,31.59 L303.86,31.29 L304.61,31.00 L305.35,30.71 L306.10,30.43 L306.84,30.15 L307.59,29.87 L308.33,29.60 L309.08,29.33 L309.82,29.06 L310.57,28.80 L311.32,28.54 L312.06,28.29 L312.81,28.03 L313.55,27.78 L314.30,27.54 L315.04,27.30 L315.79,27.06 L316.53,26.82 L317.28,26.59 L318.03,26.36 L318.77,26.13 L319.52,25.90 L320.26,25.68 L321.01,25.46 L321.75,25.25 L322.50,25.04 L323.25,24.83 L323.99,24.62 L324.74,24.41 L325.48,24.21 L326.23,24.01 L326.97,23.82 L327.72,23.62 L328.46,23.43 L329.21,23.24 L329.96,23.06 L330.70,22.87 L331.45,22.69 L332.19,22.51 L332.94,22.34 L333.68,22.16 L334.43,21.99 L335.18,21.82 L335.92,21.65 L336.67,21.49 L337.41,21.33 L338.16,21.17 L338.90,21.01 L339.65,20.85 L340.39,20.70 L341.14,20.55 L341.89,20.40 L342.63,20.25 L343.38,20.10 L344.12,19.96 L344.87,19.82 L345.61,19.68 L346.36,19.54 L347.11,19.40 L347.85,19.27 L348.60,19.13 L349.34,19.00 L350.09,18.87 L350.83,18.75 L351.58,18.62 L352.32,18.50 L353.07,18.37 L353.82,18.25 L354.56,18.14 L355.31,18.02 L356.05,17.90 L356.80,17.79 L357.54,17.68 L358.29,17.56 L359.04,17.45 L359.78,17.35 L360.53,17.24 L361.27,17.13 L362.02,17.03 L362.76,16.93 L363.51,16.83 L364.25,16.73 L365.00,16.63" fill="none" stroke="#111" stroke-width="1.8" stroke-dasharray="12,4.8"/>
<path d="M67.40,217.60 L67.50,217.60 L68.24,217.60 L68.99,217.60 L69.74,217.60 L70.48,217.60 L71.23,217.60 L71.97,217.60 L72.72,217.60 L73.46,217.60 L74.21,217.60 L74.96,217.60 L75.70,217.60 L76.45,217.60 L77.19,217.60 L77.94,217.60 L78.68,217.60 L79.43,217.60 L80.17,217.60 L80.92,217.60 L81.67,217.60 L82.41,217.60 L83.16,217.60 L83.90,217.59 L84.65,217.59 L85.39,217.59 L86.14,217.58 L86.89,217.57 L87.63,217.56 L88.38,217.54 L89.12,217.52 L89.87,217.49 L90.61,217.46 L91.36,217.42 L92.10,217.36 L92.85,217.30 L93.60,217.23 L94.34,217.14 L95.09,217.03 L95.83,216.91 L96.58,216.77 L97.32,216.61 L98.07,216.42 L98.82,216.21 L99.56,215.98 L100.31,215.72 L101.05,215.42 L101.80,215.10 L102.54,214.74 L103.29,214.35 L104.03,213.93 L104.78,213.47 L105.53,212.97 L106.27,212.43 L107.02,211.85 L107.76,211.23 L108.51,210.57 L109.25,209.87 L110.00,209.12 L110.74,208.34 L111.49,207.51 L112.24,206.63 L112.98,205.71 L113.73,204.76 L114.47,203.75 L115.22,202.71 L115.96,201.62 L116.71,200.49 L117.46,199.32 L118.20,198.11 L118.95,196.87 L119.69,195.58 L120.44,194.26 L121.18,192.90 L121.93,191.50 L122.67,190.07 L123.42,188.61 L124.17,187.12 L124.91,185.59 L125.66,184.04 L126.40,182.46 L127.15,180.85 L127.89,179.22 L128.64,177.56 L129.39,175.89 L130.13,174.19 L130.88,172.47 L131.62,170.74 L132.37,168.98 L133.11,167.22 L133.86,165.44 L134.60,163.64 L135.35,161.84 L136.10,160.02 L136.84,158.20 L137.59,156.37 L138.33,154.54 L139.08,152.70 L139.82,150.85 L140.57,149.01 L141.32,147.16 L142.06,145.31 L142.81,143.47 L143.55,141.62 L144.30,139.78 L145.04,137.95 L145.79,136.12 L146.53,134.29 L147.28,132.47 L148.03,130.66 L148.77,128.86 L149.52,127.06 L150.26,125.28 L151.01,123.50 L151.75,121.74 L152.50,119.99 L153.25,118.25 L153.99,116.53 L154.74,114.81 L155.48,113.12 L156.23,111.43 L156.97,109.77 L157.72,108.11 L158.46,106.48 L159.21,104.85 L159.96,103.25 L160.70,101.66 L161.45,100.09 L162.19,98.54 L162.94,97.00 L163.68,95.48 L164.43,93.98 L165.17,92.50 L165.92,91.03 L166.67,89.59 L167.41,88.16 L168.16,86.75 L168.90,85.36 L169.65,83.99 L170.39,82.63 L171.14,81.30 L171.89,79.98 L172.63,78.68 L173.38,77.40 L174.12,76.14 L174.87,74.90 L175.61,73.68 L176.36,72.47 L177.10,71.29 L177.85,70.12 L178.60,68.97 L179.34,67.84 L180.09,66.72 L180.83,65.63 L181.58,64.55 L182.32,63.49 L183.07,62.44 L183.82,61.42 L184.56,60.41 L185.31,59.42 L186.05,58.44 L186.80,57.48 L187.54,56.54 L188.29,55.61 L189.03,54.70 L189.78,53.81 L190.53,52.93 L191.27,52.07 L192.02,51.22 L192.76,50.39 L193.51,49.57 L194.25,48.77 L195.00,47.98 L195.75,47.21 L196.49,46.45 L197.24,45.70 L197.98,44.97 L198.73,44.25 L199.47,43.55 L200.22,42.86 L200.96,42.18 L201.71,41.51 L202.46,40.86 L203.20,40.22 L203.95,39.59 L204.69,38.98 L205.44,38.37 L206.18,37.78 L206.93,37.20 L207.68,36.63 L208.42,36.07 L209.17,35.52 L209.91,34.99 L210.66,34.46 L211.40,33.95 L212.15,33.44 L212.89,32.94 L213.64,32.46 L214.39,31.98 L215.13,31.52 L215.88,31.06 L216.62,30.61 L217.37,30.17 L218.11,29.74 L218.86,29.32 L219.60,28.91 L220.35,28.50 L221.10,28.11 L221.84,27.72 L222.59,27.34 L223.33,26.96 L224.08,26.60 L224.82,26.24 L225.57,25.89 L226.32,25.55 L227.06,25.21 L227.81,24.88 L228.55,24.56 L229.30,24.24 L230.04,23.93 L230.79,23.63 L231.53,23.34 L232.28,23.05 L233.03,22.76 L233.77,22.48 L234.52,22.21 L235.26,21.94 L236.01,21.68 L236.75,21.43 L237.50,21.17 L238.25,20.93 L238.99,20.69 L239.74,20.45 L240.48,20.22 L241.23,20.00 L241.97,19.78 L242.72,19.56 L243.46,19.35 L244.21,19.14 L244.96,18.94 L245.70,18.74 L246.45,18.55 L247.19,18.36 L247.94,18.17 L248.68,17.99 L249.43,17.81 L250.18,17.64 L250.92,17.47 L251.67,17.30 L252.41,17.13 L253.16,16.97 L253.90,16.82 L254.65,16.66 L255.39,16.51 L256.14,16.37 L256.89,16.22 L257.63,16.08 L258.38,15.94 L259.12,15.81 L259.87,15.68 L260.61,15.55 L261.36,15.42 L262.10,15.30 L262.85,15.17 L263.60,15.06 L264.34,14.94 L265.09,14.83 L265.83,14.71 L266.58,14.61 L267.32,14.50 L268.07,14.39 L268.82,14.29 L269.56,14.19 L270.31,14.09 L271.05,14.00 L271.80,13.90 L272.54,13.81 L273.29,13.72 L274.03,13.64 L274.78,13.55 L275.53,13.46 L276.27,13.38 L277.02,13.30 L277.76,13.22 L278.51,13.15 L279.25,13.07 L280.00,13.00 L280.75,12.92 L281.49,12.85 L282.24,12.78 L282.98,12.71 L283.73,12.65 L284.47,12.58 L285.22,12.52 L285.96,12.46 L286.71,12.40 L287.46,12.34 L288.20,12.28 L288.95,12.22 L289.69,12.16 L290.44,12.11 L291.18,12.06 L291.93,12.00 L292.68,11.95 L293.42,11.90 L294.17,11.85 L294.91,11.80 L295.66,11.76 L296.40,11.71 L297.15,11.66 L297.89,11.62 L298.64,11.58 L299.39,11.53 L300.13,11.49 L300.88,11.45 L301.62,11.41 L302.37,11.37 L303.11,11.34 L303.86,11.30 L304.61,11.26 L305.35,11.23 L306.10,11.19 L306.84,11.16 L307.59,11.12 L308.33,11.09 L309.08,11.06 L309.82,11.03 L310.57,10.99 L311.32,10.96 L312.06,10.93 L312.81,10.91 L313.55,10.88 L314.30,10.85 L315.04,10.82 L315.79,10.80 L316.53,10.77 L317.28,10.74 L318.03,10.72 L318.77,10.69 L319.52,10.67 L320.26,10.65 L321.01,10.62 L321.75,10.60 L322.50,10.58 L323.25,10.56 L323.99,10.54 L324.74,10.52 L325.48,10.50 L326.23,10.48 L326.97,10.46 L327.72,10.44 L328.46,10.42 L329.21,10.40 L329.96,10.38 L330.70,10.36 L331.45,10.35 L332.19,10.33 L332.94,10.31 L333.68,10.30 L334.43,10.28 L335.18,10.27 L335.92,10.25 L336.67,10.24 L337.41,10.22 L338.16,10.21 L338.90,10.19 L339.65,10.18 L340.39,10.17 L341.14,10.15 L341.89,10.14 L342.63,10.13 L343.38,10.12 L344.12,10.10 L344.87,10.09 L345.61,10.08 L346.36,10.07 L347.11,10.06 L347.85,10.05 L348.60,10.04 L349.34,10.03 L350.09,10.01 L350.83,10.00 L351.58,10.00 L352.32,9.99 L353.07,9.98 L353.82,9.97 L354.56,9.96 L355.31,9.95 L356.05,9.94 L356.80,9.93 L357.54,9.92 L358.29,9.91 L359.04,9.91 L359.78,9.90 L360.53,9.89 L361.27,9.88 L362.02,9.88 L362.76,9.87 L363.51,9.86 L364.25,9.86 L365.00,9.85" fill="none" stroke="#111" stroke-width="1.8" stroke-dasharray="5.9,4.9"/>
<path d="M67.40,217.60 L67.50,217.60 L68.24,217.60 L68.99,217.60 L69.74,217.60 L70.48,217.60 L71.23,217.60 L71.97,217.60 L72.72,217.60 L73.46,217.60 L74.21,217.60 L74.96,217.60 L75.70,217.60 L76.45,217.59 L77.19,217.58 L77.94,217.56 L78.68,217.53 L79.43,217.48 L80.17,217.40 L80.92,217.28 L81.67,217.13 L82.41,216.91 L83.16,216.63 L83.90,216.27 L84.65,215.82 L85.39,215.26 L86.14,214.60 L86.89,213.81 L87.63,212.90 L88.38,211.84 L89.12,210.65 L89.87,209.31 L90.61,207.82 L91.36,206.18 L92.10,204.38 L92.85,202.44 L93.60,200.36 L94.34,198.13 L95.09,195.76 L95.83,193.27 L96.58,190.65 L97.32,187.92 L98.07,185.07 L98.82,182.13 L99.56,179.10 L100.31,175.99 L101.05,172.80 L101.80,169.56 L102.54,166.25 L103.29,162.91 L104.03,159.53 L104.78,156.12 L105.53,152.69 L106.27,149.25 L107.02,145.80 L107.76,142.36 L108.51,138.93 L109.25,135.51 L110.00,132.12 L110.74,128.75 L111.49,125.42 L112.24,122.12 L112.98,118.87 L113.73,115.66 L114.47,112.49 L115.22,109.38 L115.96,106.32 L116.71,103.32 L117.46,100.38 L118.20,97.49 L118.95,94.67 L119.69,91.91 L120.44,89.21 L121.18,86.58 L121.93,84.01 L122.67,81.51 L123.42,79.07 L124.17,76.70 L124.91,74.39 L125.66,72.14 L126.40,69.96 L127.15,67.84 L127.89,65.78 L128.64,63.79 L129.39,61.85 L130.13,59.98 L130.88,58.16 L131.62,56.40 L132.37,54.70 L133.11,53.05 L133.86,51.46 L134.60,49.92 L135.35,48.43 L136.10,46.99 L136.84,45.59 L137.59,44.25 L138.33,42.95 L139.08,41.70 L139.82,40.49 L140.57,39.33 L141.32,38.20 L142.06,37.12 L142.81,36.08 L143.55,35.07 L144.30,34.10 L145.04,33.16 L145.79,32.26 L146.53,31.39 L147.28,30.56 L148.03,29.75 L148.77,28.97 L149.52,28.23 L150.26,27.51 L151.01,26.82 L151.75,26.15 L152.50,25.51 L153.25,24.90 L153.99,24.30 L154.74,23.73 L155.48,23.18 L156.23,22.66 L156.97,22.15 L157.72,21.66 L158.46,21.19 L159.21,20.74 L159.96,20.31 L160.70,19.89 L161.45,19.49 L162.19,19.10 L162.94,18.73 L163.68,18.38 L164.43,18.04 L165.17,17.71 L165.92,17.39 L166.67,17.09 L167.41,16.79 L168.16,16.51 L168.90,16.24 L169.65,15.98 L170.39,15.73 L171.14,15.49 L171.89,15.26 L172.63,15.04 L173.38,14.83 L174.12,14.63 L174.87,14.43 L175.61,14.24 L176.36,14.06 L177.10,13.89 L177.85,13.72 L178.60,13.56 L179.34,13.40 L180.09,13.25 L180.83,13.11 L181.58,12.97 L182.32,12.84 L183.07,12.71 L183.82,12.59 L184.56,12.48 L185.31,12.36 L186.05,12.25 L186.80,12.15 L187.54,12.05 L188.29,11.95 L189.03,11.86 L189.78,11.77 L190.53,11.69 L191.27,11.61 L192.02,11.53 L192.76,11.45 L193.51,11.38 L194.25,11.31 L195.00,11.24 L195.75,11.18 L196.49,11.11 L197.24,11.05 L197.98,11.00 L198.73,10.94 L199.47,10.89 L200.22,10.84 L200.96,10.79 L201.71,10.74 L202.46,10.69 L203.20,10.65 L203.95,10.61 L204.69,10.57 L205.44,10.53 L206.18,10.49 L206.93,10.45 L207.68,10.42 L208.42,10.38 L209.17,10.35 L209.91,10.32 L210.66,10.29 L211.40,10.26 L212.15,10.24 L212.89,10.21 L213.64,10.18 L214.39,10.16 L215.13,10.13 L215.88,10.11 L216.62,10.09 L217.37,10.07 L218.11,10.05 L218.86,10.03 L219.60,10.01 L220.35,9.99 L221.10,9.97 L221.84,9.96 L222.59,9.94 L223.33,9.93 L224.08,9.91 L224.82,9.90 L225.57,9.88 L226.32,9.87 L227.06,9.86 L227.81,9.84 L228.55,9.83 L229.30,9.82 L230.04,9.81 L230.79,9.80 L231.53,9.79 L232.28,9.78 L233.03,9.77 L233.77,9.76 L234.52,9.75 L235.26,9.74 L236.01,9.73 L236.75,9.72 L237.50,9.72 L238.25,9.71 L238.99,9.70 L239.74,9.69 L240.48,9.69 L241.23,9.68 L241.97,9.68 L242.72,9.67 L243.46,9.66 L244.21,9.66 L244.96,9.65 L245.70,9.65 L246.45,9.64 L247.19,9.64 L247.94,9.63 L248.68,9.63 L249.43,9.62 L250.18,9.62 L250.92,9.62 L251.67,9.61 L252.41,9.61 L253.16,9.60 L253.90,9.60 L254.65,9.60 L255.39,9.59 L256.14,9.59 L256.89,9.59 L257.63,9.59 L258.38,9.58 L259.12,9.58 L259.87,9.58 L260.61,9.57 L261.36,9.57 L262.10,9.57 L262.85,9.57 L263.60,9.57 L264.34,9.56 L265.09,9.56 L265.83,9.56 L266.58,9.56 L267.32,9.56 L268.07,9.55 L268.82,9.55 L269.56,9.55 L270.31,9.55 L271.05,9.55 L271.80,9.55 L272.54,9.54 L273.29,9.54 L274.03,9.54 L274.78,9.54 L275.53,9.54 L276.27,9.54 L277.02,9.54 L277.76,9.53 L278.51,9.53 L279.25,9.53 L280.00,9.53 L280.75,9.53 L281.49,9.53 L282.24,9.53 L282.98,9.53 L283.73,9.53 L284.47,9.53 L285.22,9.53 L285.96,9.52 L286.71,9.52 L287.46,9.52 L288.20,9.52 L288.95,9.52 L289.69,9.52 L290.44,9.52 L291.18,9.52 L291.93,9.52 L292.68,9.52 L293.42,9.52 L294.17,9.52 L294.91,9.52 L295.66,9.52 L296.40,9.52 L297.15,9.52 L297.89,9.51 L298.64,9.51 L299.39,9.51 L300.13,9.51 L300.88,9.51 L301.62,9.51 L302.37,9.51 L303.11,9.51 L303.86,9.51 L304.61,9.51 L305.35,9.51 L306.10,9.51 L306.84,9.51 L307.59,9.51 L308.33,9.51 L309.08,9.51 L309.82,9.51 L310.57,9.51 L311.32,9.51 L312.06,9.51 L312.81,9.51 L313.55,9.51 L314.30,9.51 L315.04,9.51 L315.79,9.51 L316.53,9.51 L317.28,9.51 L318.03,9.51 L318.77,9.51 L319.52,9.51 L320.26,9.51 L321.01,9.51 L321.75,9.51 L322.50,9.51 L323.25,9.51 L323.99,9.51 L324.74,9.50 L325.48,9.50 L326.23,9.50 L326.97,9.50 L327.72,9.50 L328.46,9.50 L329.21,9.50 L329.96,9.50 L330.70,9.50 L331.45,9.50 L332.19,9.50 L332.94,9.50 L333.68,9.50 L334.43,9.50 L335.18,9.50 L335.92,9.50 L336.67,9.50 L337.41,9.50 L338.16,9.50 L338.90,9.50 L339.65,9.50 L340.39,9.50 L341.14,9.50 L341.89,9.50 L342.63,9.50 L343.38,9.50 L344.12,9.50 L344.87,9.50 L345.61,9.50 L346.36,9.50 L347.11,9.50 L347.85,9.50 L348.60,9.50 L349.34,9.50 L350.09,9.50 L350.83,9.50 L351.58,9.50 L352.32,9.50 L353.07,9.50 L353.82,9.50 L354.56,9.50 L355.31,9.50 L356.05,9.50 L356.80,9.50 L357.54,9.50 L358.29,9.50 L359.04,9.50 L359.78,9.50 L360.53,9.50 L361.27,9.50 L362.02,9.50 L362.76,9.50 L363.51,9.50 L364.25,9.50 L365.00,9.50" fill="none" stroke="#111" stroke-width="1.8" stroke-dasharray="4.6,1.6"/>
<line x1="63.2" y1="217.6" x2="67.4" y2="217.6" stroke="#222" stroke-width="1.1"/>
<text x="57.0" y="221.9" font-size="13" text-anchor="end" textLength="7.0" lengthAdjust="spacingAndGlyphs">0</text>
<line x1="63.2" y1="176.0" x2="67.4" y2="176.0" stroke="#222" stroke-width="1.1"/>
<text x="57.0" y="180.3" font-size="13" text-anchor="end" textLength="14.0" lengthAdjust="spacingAndGlyphs">20</text>
<line x1="63.2" y1="134.4" x2="67.4" y2="134.4" stroke="#222" stroke-width="1.1"/>
<text x="57.0" y="138.7" font-size="13" text-anchor="end" textLength="14.0" lengthAdjust="spacingAndGlyphs">40</text>
<line x1="63.2" y1="92.7" x2="67.4" y2="92.7" stroke="#222" stroke-width="1.1"/>
<text x="57.0" y="97.0" font-size="13" text-anchor="end" textLength="14.0" lengthAdjust="spacingAndGlyphs">60</text>
<line x1="63.2" y1="51.1" x2="67.4" y2="51.1" stroke="#222" stroke-width="1.1"/>
<text x="57.0" y="55.4" font-size="13" text-anchor="end" textLength="14.0" lengthAdjust="spacingAndGlyphs">80</text>
<line x1="63.2" y1="9.5" x2="67.4" y2="9.5" stroke="#222" stroke-width="1.1"/>
<text x="57.0" y="13.8" font-size="13" text-anchor="end" textLength="21.0" lengthAdjust="spacingAndGlyphs">100</text>
<line x1="67.4" y1="218.4" x2="67.4" y2="221.5" stroke="#444" stroke-width="1.1"/>
<text x="67.4" y="237.4" font-size="13" text-anchor="middle">0</text>
<line x1="166.6" y1="218.4" x2="166.6" y2="221.5" stroke="#444" stroke-width="1.1"/>
<text x="166.6" y="237.4" font-size="13" text-anchor="middle">0.5</text>
<line x1="265.8" y1="218.4" x2="265.8" y2="221.5" stroke="#444" stroke-width="1.1"/>
<text x="265.8" y="237.4" font-size="13" text-anchor="middle">1</text>
<line x1="365.0" y1="218.4" x2="365.0" y2="221.5" stroke="#444" stroke-width="1.1"/>
<text x="365.0" y="237.4" font-size="13" text-anchor="middle">1.5</text>
<text x="192.9" y="250.9" font-size="14.5" textLength="46" lengthAdjust="spacingAndGlyphs">PGA (g)</text>
<text x="233.7" y="269.6" font-size="14" font-weight="bold" stroke-width="0" textLength="15" lengthAdjust="spacingAndGlyphs">(c)</text>
<text transform="translate(18.6,204) rotate(-90)" font-size="14" textLength="174" lengthAdjust="spacingAndGlyphs">Probability of exceedance a</text>
<text transform="translate(35.3,171.8) rotate(-90)" font-size="14" textLength="108" lengthAdjust="spacingAndGlyphs">damage state (%)</text>
<rect x="373.6" y="9.5" width="101" height="209.8" fill="#fff" stroke="#3a3a3a" stroke-width="1.1"/>
<line x1="378.3" y1="22.8" x2="405.4" y2="22.8" fill="none" stroke="#9c9c9c" stroke-width="1.5" stroke-dasharray="4.6,1.6"/>
<text x="407.8" y="26.4" font-size="11" fill="#2b2b2b" stroke="#2b2b2b" textLength="46.6" lengthAdjust="spacingAndGlyphs">Short-Slight</text>
<line x1="378.3" y1="49.0" x2="405.4" y2="49.0" fill="none" stroke="#9c9c9c" stroke-width="1.5" stroke-dasharray="5.9,4.9"/>
<text x="407.8" y="52.6" font-size="11" fill="#2b2b2b" stroke="#2b2b2b" textLength="62.4" lengthAdjust="spacingAndGlyphs">Short-Moderate</text>
<line x1="378.3" y1="75.3" x2="405.4" y2="75.3" fill="none" stroke="#9c9c9c" stroke-width="1.5" stroke-dasharray="12,4.8"/>
<text x="407.8" y="78.9" font-size="11" fill="#2b2b2b" stroke="#2b2b2b" textLength="62.8" lengthAdjust="spacingAndGlyphs">Short-Extensive</text>
<line x1="378.3" y1="101.5" x2="405.4" y2="101.5" fill="none" stroke="#9c9c9c" stroke-width="1.5"/>
<text x="407.8" y="105.1" font-size="11" fill="#2b2b2b" stroke="#2b2b2b" textLength="62.1" lengthAdjust="spacingAndGlyphs">Short-Complete</text>
<line x1="378.3" y1="127.7" x2="405.4" y2="127.7" fill="none" stroke="#111" stroke-width="2.0" stroke-dasharray="4.6,1.6"/>
<text x="407.8" y="131.3" font-size="11" fill="#2b2b2b" stroke="#2b2b2b" textLength="44.5" lengthAdjust="spacingAndGlyphs">Long-Slight</text>
<line x1="378.3" y1="154.0" x2="405.4" y2="154.0" fill="none" stroke="#111" stroke-width="2.0" stroke-dasharray="5.9,4.9"/>
<text x="407.8" y="157.6" font-size="11" fill="#2b2b2b" stroke="#2b2b2b" textLength="60.1" lengthAdjust="spacingAndGlyphs">Long-Moderate</text>
<line x1="378.3" y1="180.2" x2="405.4" y2="180.2" fill="none" stroke="#111" stroke-width="2.0" stroke-dasharray="12,4.8"/>
<text x="407.8" y="183.8" font-size="11" fill="#2b2b2b" stroke="#2b2b2b" textLength="60.4" lengthAdjust="spacingAndGlyphs">Long-Extensive</text>
<line x1="378.3" y1="206.4" x2="405.4" y2="206.4" fill="none" stroke="#111" stroke-width="2.0"/>
<text x="407.8" y="210.0" font-size="11" fill="#2b2b2b" stroke="#2b2b2b" textLength="59.8" lengthAdjust="spacingAndGlyphs">Long-Complete</text>
</g>
<g id="chart-d">
<path d="M53.90,279.90 L54.93,279.90 L55.96,279.90 L57.00,279.90 L58.03,279.90 L59.06,279.90 L60.09,279.90 L61.12,279.90 L62.16,279.90 L63.19,279.90 L64.22,279.90 L65.25,279.90 L66.28,279.90 L67.32,279.90 L68.35,279.90 L69.38,279.90 L70.41,279.90 L71.45,279.90 L72.48,279.90 L73.51,279.90 L74.54,279.90 L75.57,279.90 L76.61,279.90 L77.64,279.90 L78.67,279.90 L79.70,279.90 L80.73,279.90 L81.77,279.91 L82.80,279.91 L83.83,279.91 L84.86,279.92 L85.89,279.93 L86.93,279.94 L87.96,279.94 L88.99,279.95 L90.02,279.97 L91.05,279.98 L92.09,279.99 L93.12,280.00 L94.15,280.02 L95.18,280.04 L96.22,280.05 L97.25,280.07 L98.28,280.09 L99.31,280.11 L100.34,280.13 L101.38,280.15 L102.41,280.17 L103.44,280.19 L104.47,280.21 L105.50,280.24 L106.54,280.26 L107.57,280.29 L108.60,280.31 L109.63,280.34 L110.66,280.37 L111.70,280.40 L112.73,280.42 L113.76,280.45 L114.79,280.48 L115.82,280.51 L116.86,280.55 L117.89,280.58 L118.92,280.61 L119.95,280.64 L120.99,280.67 L122.02,280.71 L123.05,280.74 L124.08,280.78 L125.11,280.81 L126.15,280.85 L127.18,280.88 L128.21,280.92 L129.24,280.96 L130.27,280.99 L131.31,281.03 L132.34,281.07 L133.37,281.11 L134.40,281.14 L135.43,281.18 L136.47,281.22 L137.50,281.26 L138.53,281.30 L139.56,281.34 L140.59,281.38 L141.63,281.42 L142.66,281.46 L143.69,281.50 L144.72,281.54 L145.76,281.58 L146.79,281.62 L147.82,281.66 L148.85,281.70 L149.88,281.75 L150.92,281.79 L151.95,281.83 L152.98,281.87 L154.01,281.91 L155.04,281.95 L156.08,281.99 L157.11,282.03 L158.14,282.08 L159.17,282.12 L160.20,282.16 L161.24,282.20 L162.27,282.24 L163.30,282.29 L164.33,282.34 L165.36,282.39 L166.40,282.44 L167.43,282.50 L168.46,282.55 L169.49,282.61 L170.53,282.67 L171.56,282.72 L172.59,282.78 L173.62,282.85 L174.65,282.91 L175.69,282.97 L176.72,283.04 L177.75,283.10 L178.78,283.17 L179.81,283.23 L180.85,283.30 L181.88,283.37 L182.91,283.44 L183.94,283.50 L184.97,283.57 L186.01,283.64 L187.04,283.71 L188.07,283.78 L189.10,283.84 L190.13,283.91 L191.17,283.98 L192.20,284.05 L193.23,284.12 L194.26,284.18 L195.29,284.25 L196.33,284.32 L197.36,284.39 L198.39,284.47 L199.42,284.54 L200.46,284.61 L201.49,284.68 L202.52,284.76 L203.55,284.83 L204.58,284.90 L205.62,284.98 L206.65,285.05 L207.68,285.13 L208.71,285.20 L209.74,285.28 L210.78,285.36 L211.81,285.43 L212.84,285.51 L213.87,285.59 L214.90,285.67 L215.94,285.75 L216.97,285.82 L218.00,285.90 L219.03,285.98 L220.06,286.06 L221.10,286.14 L222.13,286.22 L223.16,286.30 L224.19,286.38 L225.23,286.47 L226.26,286.55 L227.29,286.63 L228.32,286.71 L229.35,286.79 L230.39,286.87 L231.42,286.96 L232.45,287.04 L233.48,287.12 L234.51,287.21 L235.55,287.29 L236.58,287.37 L237.61,287.46 L238.64,287.54 L239.67,287.62 L240.71,287.71 L241.74,287.79 L242.77,287.88 L243.80,287.96 L244.83,288.05 L245.87,288.13 L246.90,288.22 L247.93,288.30 L248.96,288.39 L250.00,288.48 L251.03,288.57 L252.06,288.65 L253.09,288.74 L254.12,288.83 L255.16,288.92 L256.19,289.01 L257.22,289.10 L258.25,289.19 L259.28,289.28 L260.32,289.37 L261.35,289.46 L262.38,289.55 L263.41,289.64 L264.44,289.73 L265.48,289.82 L266.51,289.91 L267.54,290.01 L268.57,290.10 L269.60,290.19 L270.64,290.28 L271.67,290.38 L272.70,290.47 L273.73,290.56 L274.77,290.66 L275.80,290.75 L276.83,290.84 L277.86,290.94 L278.89,291.03 L279.93,291.12 L280.96,291.22 L281.99,291.31 L283.02,291.41 L284.05,291.50 L285.09,291.60 L286.12,291.69 L287.15,291.79 L288.18,291.88 L289.21,291.98 L290.25,292.07 L291.28,292.16 L292.31,292.26 L293.34,292.35 L294.37,292.45 L295.41,292.54 L296.44,292.64 L297.47,292.73 L298.50,292.83 L299.54,292.92 L300.57,293.02 L301.60,293.11 L302.63,293.21 L303.66,293.31 L304.70,293.40 L305.73,293.50 L306.76,293.60 L307.79,293.69 L308.82,293.79 L309.86,293.89 L310.89,293.99 L311.92,294.08 L312.95,294.18 L313.98,294.28 L315.02,294.38 L316.05,294.48 L317.08,294.58 L318.11,294.68 L319.14,294.78 L320.18,294.88 L321.21,294.98 L322.24,295.08 L323.27,295.18 L324.31,295.28 L325.34,295.38 L326.37,295.48 L327.40,295.58 L328.43,295.69 L329.47,295.79 L330.50,295.89 L331.53,295.99 L332.56,296.09 L333.59,296.20 L334.63,296.30 L335.66,296.40 L336.69,296.50 L337.72,296.60 L338.75,296.71 L339.79,296.81 L340.82,296.91 L341.85,297.01 L342.88,297.12 L343.91,297.22 L344.95,297.32 L345.98,297.43 L347.01,297.53 L348.04,297.63 L349.07,297.73 L350.11,297.84 L351.14,297.94 L352.17,298.04 L353.20,298.14 L354.24,298.25 L355.27,298.35 L356.30,298.45 L357.33,298.55 L358.36,298.66 L359.40,298.76 L360.43,298.86 L361.46,298.96 L362.49,299.07 L363.52,299.17 L364.56,299.27 L365.59,299.37 L366.62,299.47 L367.65,299.57 L368.68,299.67 L369.72,299.78 L370.75,299.88 L371.78,299.98 L372.81,300.08 L373.84,300.18 L374.88,300.28 L375.91,300.38 L376.94,300.48 L377.97,300.58 L379.01,300.68 L380.04,300.78 L381.07,300.87 L382.10,300.97 L383.13,301.07 L384.17,301.17 L385.20,301.27 L386.23,301.36 L387.26,301.46 L388.29,301.56 L389.33,301.66 L390.36,301.75 L391.39,301.85 L392.42,301.94 L393.45,302.04 L394.49,302.13 L395.52,302.23 L396.55,302.32 L397.58,302.42 L398.61,302.51 L399.65,302.60 L400.68,302.70 L401.71,302.79 L402.74,302.88 L403.78,302.97 L404.81,303.06 L405.84,303.15 L406.87,303.25 L407.90,303.34 L408.94,303.43 L409.97,303.52 L411.00,303.60 L412.03,303.69 L413.06,303.78 L414.10,303.87 L415.13,303.96 L416.16,304.05 L417.19,304.14 L418.22,304.23 L419.26,304.31 L420.29,304.40 L421.32,304.49 L422.35,304.57 L423.38,304.66 L424.42,304.75 L425.45,304.83 L426.48,304.92 L427.51,305.01 L428.55,305.09 L429.58,305.18 L430.61,305.26 L431.64,305.35 L432.67,305.43 L433.71,305.52 L434.74,305.60 L435.77,305.69 L436.80,305.77 L437.83,305.86 L438.87,305.94 L439.90,306.02 L440.93,306.11 L441.96,306.19 L442.99,306.27 L444.03,306.35 L445.06,306.44 L446.09,306.52 L447.12,306.60 L448.15,306.68 L449.19,306.77 L450.22,306.85 L451.25,306.93 L452.28,307.01 L453.32,307.09 L454.35,307.17 L455.38,307.25 L456.41,307.33 L457.44,307.41 L458.48,307.49 L459.51,307.57 L460.54,307.65 L461.57,307.73 L462.60,307.81 L463.64,307.89 L464.67,307.97 L465.70,308.05" fill="none" stroke="#9c9c9c" stroke-width="1.5" stroke-dasharray="5.9,4.9"/>
<path d="M53.90,279.90 L54.93,279.90 L55.96,279.90 L57.00,279.90 L58.03,279.90 L59.06,279.90 L60.09,279.90 L61.12,279.90 L62.16,279.90 L63.19,279.90 L64.22,279.90 L65.25,279.90 L66.28,279.90 L67.32,279.90 L68.35,279.90 L69.38,279.90 L70.41,279.90 L71.45,279.90 L72.48,279.90 L73.51,279.90 L74.54,279.90 L75.57,279.90 L76.61,279.90 L77.64,279.90 L78.67,279.90 L79.70,279.90 L80.73,279.91 L81.77,279.92 L82.80,279.93 L83.83,279.94 L84.86,279.96 L85.89,279.98 L86.93,280.00 L87.96,280.03 L88.99,280.06 L90.02,280.09 L91.05,280.12 L92.09,280.16 L93.12,280.20 L94.15,280.24 L95.18,280.29 L96.22,280.33 L97.25,280.38 L98.28,280.44 L99.31,280.49 L100.34,280.55 L101.38,280.61 L102.41,280.67 L103.44,280.73 L104.47,280.80 L105.50,280.86 L106.54,280.93 L107.57,281.00 L108.60,281.08 L109.63,281.15 L110.66,281.23 L111.70,281.31 L112.73,281.39 L113.76,281.47 L114.79,281.55 L115.82,281.64 L116.86,281.72 L117.89,281.81 L118.92,281.90 L119.95,281.99 L120.99,282.08 L122.02,282.18 L123.05,282.27 L124.08,282.37 L125.11,282.46 L126.15,282.56 L127.18,282.66 L128.21,282.76 L129.24,282.86 L130.27,282.96 L131.31,283.06 L132.34,283.17 L133.37,283.27 L134.40,283.37 L135.43,283.48 L136.47,283.58 L137.50,283.69 L138.53,283.80 L139.56,283.90 L140.59,284.01 L141.63,284.12 L142.66,284.23 L143.69,284.33 L144.72,284.44 L145.76,284.55 L146.79,284.66 L147.82,284.77 L148.85,284.88 L149.88,284.98 L150.92,285.09 L151.95,285.20 L152.98,285.31 L154.01,285.42 L155.04,285.52 L156.08,285.63 L157.11,285.74 L158.14,285.84 L159.17,285.95 L160.20,286.05 L161.24,286.16 L162.27,286.28 L163.30,286.40 L164.33,286.52 L165.36,286.65 L166.40,286.79 L167.43,286.92 L168.46,287.06 L169.49,287.20 L170.53,287.35 L171.56,287.49 L172.59,287.64 L173.62,287.79 L174.65,287.93 L175.69,288.08 L176.72,288.23 L177.75,288.37 L178.78,288.52 L179.81,288.66 L180.85,288.80 L181.88,288.94 L182.91,289.08 L183.94,289.22 L184.97,289.37 L186.01,289.51 L187.04,289.65 L188.07,289.79 L189.10,289.94 L190.13,290.08 L191.17,290.22 L192.20,290.37 L193.23,290.51 L194.26,290.65 L195.29,290.80 L196.33,290.94 L197.36,291.09 L198.39,291.23 L199.42,291.38 L200.46,291.52 L201.49,291.67 L202.52,291.81 L203.55,291.96 L204.58,292.10 L205.62,292.25 L206.65,292.40 L207.68,292.54 L208.71,292.69 L209.74,292.84 L210.78,292.99 L211.81,293.13 L212.84,293.28 L213.87,293.43 L214.90,293.58 L215.94,293.73 L216.97,293.87 L218.00,294.02 L219.03,294.17 L220.06,294.32 L221.10,294.47 L222.13,294.62 L223.16,294.77 L224.19,294.92 L225.23,295.07 L226.26,295.22 L227.29,295.37 L228.32,295.52 L229.35,295.67 L230.39,295.82 L231.42,295.97 L232.45,296.12 L233.48,296.28 L234.51,296.43 L235.55,296.58 L236.58,296.73 L237.61,296.88 L238.64,297.03 L239.67,297.19 L240.71,297.34 L241.74,297.49 L242.77,297.65 L243.80,297.80 L244.83,297.96 L245.87,298.11 L246.90,298.27 L247.93,298.43 L248.96,298.58 L250.00,298.74 L251.03,298.90 L252.06,299.06 L253.09,299.22 L254.12,299.38 L255.16,299.53 L256.19,299.69 L257.22,299.86 L258.25,300.02 L259.28,300.18 L260.32,300.34 L261.35,300.50 L262.38,300.66 L263.41,300.82 L264.44,300.98 L265.48,301.15 L266.51,301.31 L267.54,301.47 L268.57,301.63 L269.60,301.79 L270.64,301.95 L271.67,302.12 L272.70,302.28 L273.73,302.44 L274.77,302.60 L275.80,302.76 L276.83,302.92 L277.86,303.08 L278.89,303.25 L279.93,303.41 L280.96,303.57 L281.99,303.73 L283.02,303.88 L284.05,304.04 L285.09,304.20 L286.12,304.36 L287.15,304.52 L288.18,304.68 L289.21,304.83 L290.25,304.99 L291.28,305.15 L292.31,305.30 L293.34,305.46 L294.37,305.61 L295.41,305.76 L296.44,305.92 L297.47,306.07 L298.50,306.22 L299.54,306.37 L300.57,306.52 L301.60,306.67 L302.63,306.82 L303.66,306.97 L304.70,307.12 L305.73,307.26 L306.76,307.41 L307.79,307.56 L308.82,307.71 L309.86,307.86 L310.89,308.00 L311.92,308.15 L312.95,308.30 L313.98,308.44 L315.02,308.59 L316.05,308.73 L317.08,308.88 L318.11,309.03 L319.14,309.17 L320.18,309.32 L321.21,309.46 L322.24,309.60 L323.27,309.75 L324.31,309.89 L325.34,310.04 L326.37,310.18 L327.40,310.32 L328.43,310.47 L329.47,310.61 L330.50,310.75 L331.53,310.89 L332.56,311.04 L333.59,311.18 L334.63,311.32 L335.66,311.46 L336.69,311.60 L337.72,311.75 L338.75,311.89 L339.79,312.03 L340.82,312.17 L341.85,312.31 L342.88,312.45 L343.91,312.59 L344.95,312.73 L345.98,312.87 L347.01,313.01 L348.04,313.15 L349.07,313.29 L350.11,313.43 L351.14,313.57 L352.17,313.71 L353.20,313.85 L354.24,313.99 L355.27,314.13 L356.30,314.27 L357.33,314.41 L358.36,314.54 L359.40,314.68 L360.43,314.82 L361.46,314.96 L362.49,315.10 L363.52,315.24 L364.56,315.38 L365.59,315.51 L366.62,315.65 L367.65,315.79 L368.68,315.93 L369.72,316.07 L370.75,316.21 L371.78,316.34 L372.81,316.48 L373.84,316.62 L374.88,316.76 L375.91,316.90 L376.94,317.03 L377.97,317.17 L379.01,317.31 L380.04,317.45 L381.07,317.59 L382.10,317.72 L383.13,317.86 L384.17,318.00 L385.20,318.14 L386.23,318.27 L387.26,318.41 L388.29,318.55 L389.33,318.69 L390.36,318.83 L391.39,318.96 L392.42,319.10 L393.45,319.24 L394.49,319.38 L395.52,319.52 L396.55,319.66 L397.58,319.79 L398.61,319.93 L399.65,320.07 L400.68,320.21 L401.71,320.35 L402.74,320.49 L403.78,320.62 L404.81,320.76 L405.84,320.90 L406.87,321.04 L407.90,321.18 L408.94,321.32 L409.97,321.46 L411.00,321.60 L412.03,321.73 L413.06,321.87 L414.10,322.01 L415.13,322.15 L416.16,322.29 L417.19,322.43 L418.22,322.56 L419.26,322.70 L420.29,322.84 L421.32,322.98 L422.35,323.12 L423.38,323.25 L424.42,323.39 L425.45,323.53 L426.48,323.67 L427.51,323.81 L428.55,323.94 L429.58,324.08 L430.61,324.22 L431.64,324.35 L432.67,324.49 L433.71,324.63 L434.74,324.77 L435.77,324.90 L436.80,325.04 L437.83,325.18 L438.87,325.31 L439.90,325.45 L440.93,325.59 L441.96,325.73 L442.99,325.86 L444.03,326.00 L445.06,326.14 L446.09,326.27 L447.12,326.41 L448.15,326.55 L449.19,326.68 L450.22,326.82 L451.25,326.95 L452.28,327.09 L453.32,327.23 L454.35,327.36 L455.38,327.50 L456.41,327.64 L457.44,327.77 L458.48,327.91 L459.51,328.04 L460.54,328.18 L461.57,328.32 L462.60,328.45 L463.64,328.59 L464.67,328.72 L465.70,328.86" fill="none" stroke="#9c9c9c" stroke-width="1.5" stroke-dasharray="12,4.8"/>
<path d="M53.90,279.90 L54.93,279.90 L55.96,279.90 L57.00,279.90 L58.03,279.90 L59.06,279.90 L60.09,279.90 L61.12,279.90 L62.16,279.90 L63.19,279.90 L64.22,279.90 L65.25,279.90 L66.28,279.90 L67.32,279.90 L68.35,279.90 L69.38,279.90 L70.41,279.90 L71.45,279.90 L72.48,279.90 L73.51,279.90 L74.54,279.90 L75.57,279.90 L76.61,279.90 L77.64,279.90 L78.67,279.90 L79.70,279.90 L80.73,279.91 L81.77,279.91 L82.80,279.93 L83.83,279.94 L84.86,279.96 L85.89,279.98 L86.93,280.00 L87.96,280.03 L88.99,280.06 L90.02,280.09 L91.05,280.12 L92.09,280.16 L93.12,280.20 L94.15,280.24 L95.18,280.28 L96.22,280.33 L97.25,280.38 L98.28,280.43 L99.31,280.48 L100.34,280.54 L101.38,280.60 L102.41,280.66 L103.44,280.72 L104.47,280.79 L105.50,280.85 L106.54,280.92 L107.57,280.99 L108.60,281.06 L109.63,281.14 L110.66,281.21 L111.70,281.29 L112.73,281.37 L113.76,281.45 L114.79,281.53 L115.82,281.62 L116.86,281.70 L117.89,281.79 L118.92,281.88 L119.95,281.97 L120.99,282.06 L122.02,282.15 L123.05,282.24 L124.08,282.34 L125.11,282.43 L126.15,282.53 L127.18,282.62 L128.21,282.72 L129.24,282.82 L130.27,282.92 L131.31,283.02 L132.34,283.12 L133.37,283.23 L134.40,283.33 L135.43,283.43 L136.47,283.53 L137.50,283.64 L138.53,283.74 L139.56,283.85 L140.59,283.95 L141.63,284.06 L142.66,284.17 L143.69,284.27 L144.72,284.38 L145.76,284.48 L146.79,284.59 L147.82,284.70 L148.85,284.80 L149.88,284.91 L150.92,285.01 L151.95,285.12 L152.98,285.22 L154.01,285.33 L155.04,285.43 L156.08,285.54 L157.11,285.64 L158.14,285.75 L159.17,285.85 L160.20,285.95 L161.24,286.06 L162.27,286.17 L163.30,286.29 L164.33,286.41 L165.36,286.53 L166.40,286.66 L167.43,286.79 L168.46,286.92 L169.49,287.06 L170.53,287.20 L171.56,287.34 L172.59,287.48 L173.62,287.62 L174.65,287.76 L175.69,287.90 L176.72,288.04 L177.75,288.18 L178.78,288.32 L179.81,288.46 L180.85,288.59 L181.88,288.73 L182.91,288.86 L183.94,289.00 L184.97,289.13 L186.01,289.27 L187.04,289.40 L188.07,289.54 L189.10,289.68 L190.13,289.81 L191.17,289.95 L192.20,290.09 L193.23,290.22 L194.26,290.36 L195.29,290.50 L196.33,290.63 L197.36,290.77 L198.39,290.91 L199.42,291.05 L200.46,291.19 L201.49,291.33 L202.52,291.46 L203.55,291.60 L204.58,291.74 L205.62,291.88 L206.65,292.02 L207.68,292.16 L208.71,292.30 L209.74,292.44 L210.78,292.58 L211.81,292.72 L212.84,292.86 L213.87,293.00 L214.90,293.14 L215.94,293.28 L216.97,293.42 L218.00,293.57 L219.03,293.71 L220.06,293.85 L221.10,293.99 L222.13,294.13 L223.16,294.28 L224.19,294.42 L225.23,294.56 L226.26,294.70 L227.29,294.85 L228.32,294.99 L229.35,295.13 L230.39,295.28 L231.42,295.42 L232.45,295.56 L233.48,295.71 L234.51,295.85 L235.55,296.00 L236.58,296.14 L237.61,296.29 L238.64,296.43 L239.67,296.58 L240.71,296.72 L241.74,296.87 L242.77,297.02 L243.80,297.16 L244.83,297.31 L245.87,297.46 L246.90,297.61 L247.93,297.76 L248.96,297.91 L250.00,298.06 L251.03,298.21 L252.06,298.36 L253.09,298.52 L254.12,298.67 L255.16,298.82 L256.19,298.97 L257.22,299.13 L258.25,299.28 L259.28,299.44 L260.32,299.59 L261.35,299.74 L262.38,299.90 L263.41,300.05 L264.44,300.21 L265.48,300.36 L266.51,300.52 L267.54,300.67 L268.57,300.83 L269.60,300.98 L270.64,301.14 L271.67,301.29 L272.70,301.45 L273.73,301.60 L274.77,301.76 L275.80,301.91 L276.83,302.06 L277.86,302.22 L278.89,302.37 L279.93,302.53 L280.96,302.68 L281.99,302.83 L283.02,302.98 L284.05,303.14 L285.09,303.29 L286.12,303.44 L287.15,303.59 L288.18,303.74 L289.21,303.89 L290.25,304.04 L291.28,304.19 L292.31,304.33 L293.34,304.48 L294.37,304.63 L295.41,304.78 L296.44,304.92 L297.47,305.07 L298.50,305.21 L299.54,305.35 L300.57,305.49 L301.60,305.64 L302.63,305.78 L303.66,305.92 L304.70,306.06 L305.73,306.20 L306.76,306.34 L307.79,306.48 L308.82,306.62 L309.86,306.76 L310.89,306.90 L311.92,307.04 L312.95,307.18 L313.98,307.32 L315.02,307.46 L316.05,307.60 L317.08,307.74 L318.11,307.87 L319.14,308.01 L320.18,308.15 L321.21,308.29 L322.24,308.42 L323.27,308.56 L324.31,308.70 L325.34,308.83 L326.37,308.97 L327.40,309.10 L328.43,309.24 L329.47,309.38 L330.50,309.51 L331.53,309.65 L332.56,309.78 L333.59,309.92 L334.63,310.05 L335.66,310.18 L336.69,310.32 L337.72,310.45 L338.75,310.59 L339.79,310.72 L340.82,310.85 L341.85,310.99 L342.88,311.12 L343.91,311.25 L344.95,311.39 L345.98,311.52 L347.01,311.65 L348.04,311.78 L349.07,311.92 L350.11,312.05 L351.14,312.18 L352.17,312.31 L353.20,312.44 L354.24,312.57 L355.27,312.71 L356.30,312.84 L357.33,312.97 L358.36,313.10 L359.40,313.23 L360.43,313.36 L361.46,313.49 L362.49,313.62 L363.52,313.75 L364.56,313.88 L365.59,314.01 L366.62,314.15 L367.65,314.28 L368.68,314.41 L369.72,314.54 L370.75,314.67 L371.78,314.80 L372.81,314.93 L373.84,315.06 L374.88,315.19 L375.91,315.31 L376.94,315.44 L377.97,315.57 L379.01,315.70 L380.04,315.83 L381.07,315.96 L382.10,316.09 L383.13,316.22 L384.17,316.35 L385.20,316.48 L386.23,316.61 L387.26,316.74 L388.29,316.87 L389.33,317.00 L390.36,317.13 L391.39,317.26 L392.42,317.39 L393.45,317.51 L394.49,317.64 L395.52,317.77 L396.55,317.90 L397.58,318.03 L398.61,318.16 L399.65,318.29 L400.68,318.42 L401.71,318.55 L402.74,318.68 L403.78,318.81 L404.81,318.94 L405.84,319.07 L406.87,319.20 L407.90,319.33 L408.94,319.45 L409.97,319.58 L411.00,319.71 L412.03,319.84 L413.06,319.97 L414.10,320.10 L415.13,320.23 L416.16,320.36 L417.19,320.48 L418.22,320.61 L419.26,320.74 L420.29,320.87 L421.32,321.00 L422.35,321.12 L423.38,321.25 L424.42,321.38 L425.45,321.51 L426.48,321.63 L427.51,321.76 L428.55,321.89 L429.58,322.02 L430.61,322.14 L431.64,322.27 L432.67,322.40 L433.71,322.52 L434.74,322.65 L435.77,322.78 L436.80,322.90 L437.83,323.03 L438.87,323.16 L439.90,323.28 L440.93,323.41 L441.96,323.53 L442.99,323.66 L444.03,323.79 L445.06,323.91 L446.09,324.04 L447.12,324.16 L448.15,324.29 L449.19,324.41 L450.22,324.54 L451.25,324.67 L452.28,324.79 L453.32,324.92 L454.35,325.04 L455.38,325.17 L456.41,325.29 L457.44,325.42 L458.48,325.54 L459.51,325.66 L460.54,325.79 L461.57,325.91 L462.60,326.04 L463.64,326.16 L464.67,326.29 L465.70,326.41" fill="none" stroke="#9c9c9c" stroke-width="1.5"/>
<path d="M53.90,279.90 L54.93,279.90 L55.96,279.90 L57.00,279.90 L58.03,279.90 L59.06,279.90 L60.09,279.90 L61.12,279.90 L62.16,279.90 L63.19,279.90 L64.22,279.90 L65.25,279.90 L66.28,279.90 L67.32,279.90 L68.35,279.90 L69.38,279.90 L70.41,279.90 L71.45,279.90 L72.48,279.90 L73.51,279.90 L74.54,279.90 L75.57,279.90 L76.61,279.90 L77.64,279.90 L78.67,279.90 L79.70,279.90 L80.73,279.95 L81.77,280.04 L82.80,280.17 L83.83,280.33 L84.86,280.51 L85.89,280.70 L86.93,280.89 L87.96,281.08 L88.99,281.28 L90.02,281.51 L91.05,281.76 L92.09,282.03 L93.12,282.32 L94.15,282.62 L95.18,282.94 L96.22,283.28 L97.25,283.63 L98.28,284.00 L99.31,284.38 L100.34,284.78 L101.38,285.22 L102.41,285.73 L103.44,286.29 L104.47,286.89 L105.50,287.52 L106.54,288.17 L107.57,288.82 L108.60,289.46 L109.63,290.08 L110.66,290.67 L111.70,291.24 L112.73,291.81 L113.76,292.36 L114.79,292.91 L115.82,293.46 L116.86,294.02 L117.89,294.58 L118.92,295.14 L119.95,295.72 L120.99,296.32 L122.02,296.93 L123.05,297.56 L124.08,298.20 L125.11,298.85 L126.15,299.52 L127.18,300.20 L128.21,300.88 L129.24,301.58 L130.27,302.29 L131.31,303.00 L132.34,303.72 L133.37,304.45 L134.40,305.18 L135.43,305.92 L136.47,306.67 L137.50,307.42 L138.53,308.17 L139.56,308.93 L140.59,309.69 L141.63,310.45 L142.66,311.21 L143.69,311.97 L144.72,312.74 L145.76,313.50 L146.79,314.27 L147.82,315.03 L148.85,315.79 L149.88,316.54 L150.92,317.30 L151.95,318.06 L152.98,318.82 L154.01,319.58 L155.04,320.34 L156.08,321.10 L157.11,321.87 L158.14,322.64 L159.17,323.41 L160.20,324.18 L161.24,324.95 L162.27,325.73 L163.30,326.50 L164.33,327.28 L165.36,328.06 L166.40,328.84 L167.43,329.62 L168.46,330.41 L169.49,331.19 L170.53,331.98 L171.56,332.77 L172.59,333.56 L173.62,334.35 L174.65,335.15 L175.69,335.94 L176.72,336.74 L177.75,337.54 L178.78,338.34 L179.81,339.14 L180.85,339.94 L181.88,340.74 L182.91,341.55 L183.94,342.35 L184.97,343.16 L186.01,343.97 L187.04,344.78 L188.07,345.59 L189.10,346.41 L190.13,347.22 L191.17,348.04 L192.20,348.86 L193.23,349.69 L194.26,350.52 L195.29,351.36 L196.33,352.21 L197.36,353.06 L198.39,353.92 L199.42,354.78 L200.46,355.65 L201.49,356.51 L202.52,357.38 L203.55,358.25 L204.58,359.11 L205.62,359.98 L206.65,360.84 L207.68,361.70 L208.71,362.56 L209.74,363.41 L210.78,364.26 L211.81,365.11 L212.84,365.94 L213.87,366.77 L214.90,367.59 L215.94,368.41 L216.97,369.21 L218.00,370.01 L219.03,370.79 L220.06,371.57 L221.10,372.35 L222.13,373.12 L223.16,373.89 L224.19,374.67 L225.23,375.43 L226.26,376.20 L227.29,376.96 L228.32,377.73 L229.35,378.48 L230.39,379.24 L231.42,379.99 L232.45,380.74 L233.48,381.49 L234.51,382.23 L235.55,382.97 L236.58,383.71 L237.61,384.44 L238.64,385.17 L239.67,385.90 L240.71,386.62 L241.74,387.34 L242.77,388.06 L243.80,388.77 L244.83,389.48 L245.87,390.18 L246.90,390.88 L247.93,391.57 L248.96,392.27 L250.00,392.95 L251.03,393.63 L252.06,394.31 L253.09,394.98 L254.12,395.65 L255.16,396.32 L256.19,396.97 L257.22,397.63 L258.25,398.28 L259.28,398.92 L260.32,399.56 L261.35,400.19 L262.38,400.83 L263.41,401.46 L264.44,402.09 L265.48,402.71 L266.51,403.33 L267.54,403.95 L268.57,404.57 L269.60,405.18 L270.64,405.79 L271.67,406.40 L272.70,407.00 L273.73,407.60 L274.77,408.20 L275.80,408.80 L276.83,409.39 L277.86,409.97 L278.89,410.56 L279.93,411.14 L280.96,411.71 L281.99,412.29 L283.02,412.85 L284.05,413.42 L285.09,413.98 L286.12,414.54 L287.15,415.09 L288.18,415.64 L289.21,416.19 L290.25,416.73 L291.28,417.26 L292.31,417.79 L293.34,418.32 L294.37,418.85 L295.41,419.37 L296.44,419.88 L297.47,420.39 L298.50,420.89 L299.54,421.40 L300.57,421.89 L301.60,422.38 L302.63,422.87 L303.66,423.35 L304.70,423.83 L305.73,424.30 L306.76,424.76 L307.79,425.23 L308.82,425.69 L309.86,426.14 L310.89,426.59 L311.92,427.04 L312.95,427.48 L313.98,427.92 L315.02,428.35 L316.05,428.78 L317.08,429.21 L318.11,429.64 L319.14,430.06 L320.18,430.47 L321.21,430.89 L322.24,431.30 L323.27,431.71 L324.31,432.12 L325.34,432.52 L326.37,432.92 L327.40,433.32 L328.43,433.72 L329.47,434.11 L330.50,434.50 L331.53,434.90 L332.56,435.29 L333.59,435.67 L334.63,436.06 L335.66,436.44 L336.69,436.83 L337.72,437.21 L338.75,437.58 L339.79,437.96 L340.82,438.33 L341.85,438.70 L342.88,439.06 L343.91,439.42 L344.95,439.78 L345.98,440.13 L347.01,440.48 L348.04,440.83 L349.07,441.17 L350.11,441.51 L351.14,441.84 L352.17,442.17 L353.20,442.49 L354.24,442.81 L355.27,443.12 L356.30,443.43 L357.33,443.73 L358.36,444.03 L359.40,444.33 L360.43,444.63 L361.46,444.92 L362.49,445.22 L363.52,445.51 L364.56,445.80 L365.59,446.09 L366.62,446.37 L367.65,446.65 L368.68,446.93 L369.72,447.21 L370.75,447.49 L371.78,447.76 L372.81,448.03 L373.84,448.30 L374.88,448.56 L375.91,448.83 L376.94,449.09 L377.97,449.35 L379.01,449.61 L380.04,449.86 L381.07,450.11 L382.10,450.36 L383.13,450.61 L384.17,450.86 L385.20,451.10 L386.23,451.34 L387.26,451.58 L388.29,451.81 L389.33,452.04 L390.36,452.27 L391.39,452.50 L392.42,452.73 L393.45,452.95 L394.49,453.17 L395.52,453.39 L396.55,453.60 L397.58,453.81 L398.61,454.02 L399.65,454.23 L400.68,454.44 L401.71,454.64 L402.74,454.85 L403.78,455.05 L404.81,455.25 L405.84,455.45 L406.87,455.64 L407.90,455.84 L408.94,456.03 L409.97,456.22 L411.00,456.41 L412.03,456.60 L413.06,456.78 L414.10,456.97 L415.13,457.15 L416.16,457.33 L417.19,457.51 L418.22,457.69 L419.26,457.87 L420.29,458.04 L421.32,458.21 L422.35,458.39 L423.38,458.56 L424.42,458.72 L425.45,458.89 L426.48,459.06 L427.51,459.22 L428.55,459.39 L429.58,459.55 L430.61,459.71 L431.64,459.87 L432.67,460.02 L433.71,460.18 L434.74,460.33 L435.77,460.49 L436.80,460.64 L437.83,460.79 L438.87,460.94 L439.90,461.09 L440.93,461.23 L441.96,461.38 L442.99,461.52 L444.03,461.66 L445.06,461.80 L446.09,461.94 L447.12,462.08 L448.15,462.22 L449.19,462.35 L450.22,462.49 L451.25,462.62 L452.28,462.75 L453.32,462.88 L454.35,463.01 L455.38,463.13 L456.41,463.26 L457.44,463.38 L458.48,463.50 L459.51,463.62 L460.54,463.74 L461.57,463.86 L462.60,463.98 L463.64,464.09 L464.67,464.20 L465.70,464.32" fill="none" stroke="#111" stroke-width="1.8" stroke-dasharray="5.9,4.9"/>
<path d="M53.90,279.90 L54.93,279.90 L55.96,279.90 L57.00,279.90 L58.03,279.90 L59.06,279.90 L60.09,279.90 L61.12,279.90 L62.16,279.90 L63.19,279.90 L64.22,279.90 L65.25,279.90 L66.28,279.90 L67.32,279.90 L68.35,279.90 L69.38,279.90 L70.41,279.90 L71.45,279.90 L72.48,279.90 L73.51,279.90 L74.54,279.90 L75.57,279.90 L76.61,279.90 L77.64,279.90 L78.67,279.90 L79.70,279.91 L80.73,280.11 L81.77,280.53 L82.80,281.11 L83.83,281.79 L84.86,282.51 L85.89,283.21 L86.93,283.84 L87.96,284.36 L88.99,284.88 L90.02,285.39 L91.05,285.90 L92.09,286.41 L93.12,286.91 L94.15,287.42 L95.18,287.92 L96.22,288.43 L97.25,288.93 L98.28,289.42 L99.31,289.90 L100.34,290.39 L101.38,290.91 L102.41,291.46 L103.44,292.07 L104.47,292.75 L105.50,293.47 L106.54,294.24 L107.57,295.03 L108.60,295.83 L109.63,296.64 L110.66,297.43 L111.70,298.20 L112.73,298.97 L113.76,299.74 L114.79,300.51 L115.82,301.29 L116.86,302.06 L117.89,302.84 L118.92,303.63 L119.95,304.42 L120.99,305.21 L122.02,306.02 L123.05,306.83 L124.08,307.64 L125.11,308.46 L126.15,309.28 L127.18,310.11 L128.21,310.94 L129.24,311.78 L130.27,312.62 L131.31,313.46 L132.34,314.30 L133.37,315.15 L134.40,316.00 L135.43,316.86 L136.47,317.71 L137.50,318.57 L138.53,319.43 L139.56,320.29 L140.59,321.16 L141.63,322.02 L142.66,322.89 L143.69,323.76 L144.72,324.62 L145.76,325.49 L146.79,326.36 L147.82,327.23 L148.85,328.11 L149.88,328.98 L150.92,329.85 L151.95,330.73 L152.98,331.61 L154.01,332.49 L155.04,333.38 L156.08,334.27 L157.11,335.16 L158.14,336.05 L159.17,336.95 L160.20,337.85 L161.24,338.75 L162.27,339.65 L163.30,340.56 L164.33,341.46 L165.36,342.37 L166.40,343.28 L167.43,344.19 L168.46,345.09 L169.49,346.00 L170.53,346.91 L171.56,347.82 L172.59,348.73 L173.62,349.64 L174.65,350.54 L175.69,351.45 L176.72,352.35 L177.75,353.26 L178.78,354.16 L179.81,355.06 L180.85,355.95 L181.88,356.85 L182.91,357.74 L183.94,358.63 L184.97,359.52 L186.01,360.40 L187.04,361.28 L188.07,362.16 L189.10,363.03 L190.13,363.90 L191.17,364.76 L192.20,365.63 L193.23,366.49 L194.26,367.36 L195.29,368.23 L196.33,369.10 L197.36,369.97 L198.39,370.83 L199.42,371.70 L200.46,372.57 L201.49,373.43 L202.52,374.29 L203.55,375.15 L204.58,376.00 L205.62,376.85 L206.65,377.70 L207.68,378.54 L208.71,379.37 L209.74,380.20 L210.78,381.02 L211.81,381.84 L212.84,382.65 L213.87,383.45 L214.90,384.24 L215.94,385.02 L216.97,385.79 L218.00,386.55 L219.03,387.30 L220.06,388.05 L221.10,388.79 L222.13,389.53 L223.16,390.26 L224.19,390.99 L225.23,391.72 L226.26,392.44 L227.29,393.16 L228.32,393.88 L229.35,394.59 L230.39,395.30 L231.42,396.00 L232.45,396.70 L233.48,397.40 L234.51,398.09 L235.55,398.78 L236.58,399.46 L237.61,400.14 L238.64,400.82 L239.67,401.49 L240.71,402.16 L241.74,402.82 L242.77,403.48 L243.80,404.14 L244.83,404.79 L245.87,405.43 L246.90,406.08 L247.93,406.71 L248.96,407.35 L250.00,407.98 L251.03,408.60 L252.06,409.22 L253.09,409.84 L254.12,410.45 L255.16,411.05 L256.19,411.65 L257.22,412.25 L258.25,412.84 L259.28,413.43 L260.32,414.02 L261.35,414.60 L262.38,415.18 L263.41,415.75 L264.44,416.33 L265.48,416.90 L266.51,417.47 L267.54,418.03 L268.57,418.59 L269.60,419.16 L270.64,419.71 L271.67,420.27 L272.70,420.82 L273.73,421.37 L274.77,421.91 L275.80,422.45 L276.83,422.99 L277.86,423.52 L278.89,424.05 L279.93,424.58 L280.96,425.10 L281.99,425.62 L283.02,426.13 L284.05,426.64 L285.09,427.15 L286.12,427.65 L287.15,428.15 L288.18,428.64 L289.21,429.13 L290.25,429.61 L291.28,430.09 L292.31,430.56 L293.34,431.03 L294.37,431.49 L295.41,431.95 L296.44,432.40 L297.47,432.85 L298.50,433.29 L299.54,433.73 L300.57,434.16 L301.60,434.58 L302.63,435.00 L303.66,435.42 L304.70,435.83 L305.73,436.23 L306.76,436.63 L307.79,437.03 L308.82,437.42 L309.86,437.81 L310.89,438.19 L311.92,438.57 L312.95,438.94 L313.98,439.31 L315.02,439.68 L316.05,440.04 L317.08,440.40 L318.11,440.76 L319.14,441.11 L320.18,441.46 L321.21,441.80 L322.24,442.14 L323.27,442.48 L324.31,442.81 L325.34,443.15 L326.37,443.47 L327.40,443.80 L328.43,444.12 L329.47,444.44 L330.50,444.76 L331.53,445.07 L332.56,445.38 L333.59,445.70 L334.63,446.00 L335.66,446.31 L336.69,446.61 L337.72,446.91 L338.75,447.21 L339.79,447.51 L340.82,447.80 L341.85,448.09 L342.88,448.37 L343.91,448.65 L344.95,448.93 L345.98,449.21 L347.01,449.48 L348.04,449.75 L349.07,450.01 L350.11,450.28 L351.14,450.53 L352.17,450.79 L353.20,451.04 L354.24,451.28 L355.27,451.53 L356.30,451.76 L357.33,452.00 L358.36,452.23 L359.40,452.46 L360.43,452.70 L361.46,452.92 L362.49,453.15 L363.52,453.38 L364.56,453.60 L365.59,453.82 L366.62,454.04 L367.65,454.26 L368.68,454.48 L369.72,454.69 L370.75,454.91 L371.78,455.12 L372.81,455.33 L373.84,455.53 L374.88,455.74 L375.91,455.94 L376.94,456.14 L377.97,456.34 L379.01,456.54 L380.04,456.73 L381.07,456.92 L382.10,457.12 L383.13,457.30 L384.17,457.49 L385.20,457.67 L386.23,457.86 L387.26,458.04 L388.29,458.21 L389.33,458.39 L390.36,458.56 L391.39,458.73 L392.42,458.90 L393.45,459.06 L394.49,459.23 L395.52,459.39 L396.55,459.55 L397.58,459.70 L398.61,459.86 L399.65,460.01 L400.68,460.16 L401.71,460.31 L402.74,460.46 L403.78,460.60 L404.81,460.75 L405.84,460.89 L406.87,461.03 L407.90,461.17 L408.94,461.31 L409.97,461.45 L411.00,461.58 L412.03,461.72 L413.06,461.85 L414.10,461.98 L415.13,462.11 L416.16,462.24 L417.19,462.37 L418.22,462.49 L419.26,462.62 L420.29,462.74 L421.32,462.86 L422.35,462.99 L423.38,463.11 L424.42,463.22 L425.45,463.34 L426.48,463.46 L427.51,463.58 L428.55,463.69 L429.58,463.80 L430.61,463.92 L431.64,464.03 L432.67,464.14 L433.71,464.25 L434.74,464.36 L435.77,464.47 L436.80,464.57 L437.83,464.68 L438.87,464.79 L439.90,464.89 L440.93,465.00 L441.96,465.10 L442.99,465.20 L444.03,465.30 L445.06,465.40 L446.09,465.50 L447.12,465.60 L448.15,465.69 L449.19,465.79 L450.22,465.88 L451.25,465.98 L452.28,466.07 L453.32,466.16 L454.35,466.25 L455.38,466.34 L456.41,466.43 L457.44,466.52 L458.48,466.60 L459.51,466.69 L460.54,466.77 L461.57,466.85 L462.60,466.93 L463.64,467.01 L464.67,467.09 L465.70,467.17" fill="none" stroke="#111" stroke-width="1.8" stroke-dasharray="12,4.8"/>
<path d="M53.90,279.90 L54.93,279.90 L55.96,279.90 L57.00,279.90 L58.03,279.90 L59.06,279.90 L60.09,279.90 L61.12,279.90 L62.16,279.90 L63.19,279.90 L64.22,279.90 L65.25,279.90 L66.28,279.90 L67.32,279.90 L68.35,279.90 L69.38,279.90 L70.41,279.90 L71.45,279.90 L72.48,279.90 L73.51,279.90 L74.54,279.90 L75.57,279.90 L76.61,279.90 L77.64,279.90 L78.67,279.90 L79.70,279.91 L80.73,280.04 L81.77,280.33 L82.80,280.76 L83.83,281.30 L84.86,281.93 L85.89,282.62 L86.93,283.36 L87.96,284.11 L88.99,284.86 L90.02,285.58 L91.05,286.27 L92.09,287.01 L93.12,287.79 L94.15,288.61 L95.18,289.47 L96.22,290.34 L97.25,291.23 L98.28,292.11 L99.31,293.00 L100.34,293.91 L101.38,294.83 L102.41,295.78 L103.44,296.73 L104.47,297.69 L105.50,298.65 L106.54,299.60 L107.57,300.54 L108.60,301.47 L109.63,302.42 L110.66,303.38 L111.70,304.36 L112.73,305.34 L113.76,306.33 L114.79,307.33 L115.82,308.34 L116.86,309.35 L117.89,310.36 L118.92,311.38 L119.95,312.41 L120.99,313.44 L122.02,314.47 L123.05,315.51 L124.08,316.55 L125.11,317.60 L126.15,318.65 L127.18,319.71 L128.21,320.77 L129.24,321.84 L130.27,322.91 L131.31,323.98 L132.34,325.06 L133.37,326.14 L134.40,327.22 L135.43,328.30 L136.47,329.39 L137.50,330.48 L138.53,331.56 L139.56,332.65 L140.59,333.74 L141.63,334.82 L142.66,335.91 L143.69,336.99 L144.72,338.07 L145.76,339.15 L146.79,340.23 L147.82,341.30 L148.85,342.38 L149.88,343.44 L150.92,344.51 L151.95,345.58 L152.98,346.65 L154.01,347.73 L155.04,348.81 L156.08,349.89 L157.11,350.97 L158.14,352.06 L159.17,353.15 L160.20,354.24 L161.24,355.33 L162.27,356.42 L163.30,357.50 L164.33,358.59 L165.36,359.68 L166.40,360.77 L167.43,361.86 L168.46,362.94 L169.49,364.02 L170.53,365.10 L171.56,366.18 L172.59,367.25 L173.62,368.32 L174.65,369.38 L175.69,370.45 L176.72,371.50 L177.75,372.55 L178.78,373.60 L179.81,374.64 L180.85,375.67 L181.88,376.70 L182.91,377.71 L183.94,378.73 L184.97,379.73 L186.01,380.73 L187.04,381.71 L188.07,382.69 L189.10,383.66 L190.13,384.62 L191.17,385.57 L192.20,386.51 L193.23,387.45 L194.26,388.38 L195.29,389.31 L196.33,390.23 L197.36,391.15 L198.39,392.06 L199.42,392.97 L200.46,393.87 L201.49,394.76 L202.52,395.65 L203.55,396.53 L204.58,397.40 L205.62,398.27 L206.65,399.13 L207.68,399.99 L208.71,400.84 L209.74,401.68 L210.78,402.52 L211.81,403.35 L212.84,404.17 L213.87,404.98 L214.90,405.79 L215.94,406.58 L216.97,407.37 L218.00,408.16 L219.03,408.93 L220.06,409.71 L221.10,410.48 L222.13,411.26 L223.16,412.03 L224.19,412.81 L225.23,413.58 L226.26,414.35 L227.29,415.12 L228.32,415.89 L229.35,416.65 L230.39,417.41 L231.42,418.17 L232.45,418.92 L233.48,419.67 L234.51,420.42 L235.55,421.16 L236.58,421.89 L237.61,422.62 L238.64,423.34 L239.67,424.06 L240.71,424.76 L241.74,425.47 L242.77,426.16 L243.80,426.85 L244.83,427.52 L245.87,428.19 L246.90,428.85 L247.93,429.50 L248.96,430.14 L250.00,430.77 L251.03,431.39 L252.06,432.00 L253.09,432.59 L254.12,433.18 L255.16,433.75 L256.19,434.31 L257.22,434.86 L258.25,435.39 L259.28,435.91 L260.32,436.42 L261.35,436.91 L262.38,437.41 L263.41,437.89 L264.44,438.37 L265.48,438.85 L266.51,439.31 L267.54,439.78 L268.57,440.23 L269.60,440.68 L270.64,441.13 L271.67,441.57 L272.70,442.00 L273.73,442.43 L274.77,442.85 L275.80,443.27 L276.83,443.68 L277.86,444.09 L278.89,444.49 L279.93,444.88 L280.96,445.28 L281.99,445.66 L283.02,446.05 L284.05,446.43 L285.09,446.80 L286.12,447.17 L287.15,447.54 L288.18,447.90 L289.21,448.26 L290.25,448.61 L291.28,448.96 L292.31,449.30 L293.34,449.65 L294.37,449.99 L295.41,450.32 L296.44,450.65 L297.47,450.98 L298.50,451.31 L299.54,451.63 L300.57,451.95 L301.60,452.27 L302.63,452.58 L303.66,452.89 L304.70,453.20 L305.73,453.50 L306.76,453.80 L307.79,454.10 L308.82,454.39 L309.86,454.68 L310.89,454.97 L311.92,455.25 L312.95,455.53 L313.98,455.80 L315.02,456.07 L316.05,456.34 L317.08,456.60 L318.11,456.86 L319.14,457.12 L320.18,457.37 L321.21,457.61 L322.24,457.86 L323.27,458.09 L324.31,458.33 L325.34,458.56 L326.37,458.78 L327.40,459.00 L328.43,459.22 L329.47,459.43 L330.50,459.64 L331.53,459.84 L332.56,460.04 L333.59,460.25 L334.63,460.44 L335.66,460.64 L336.69,460.83 L337.72,461.02 L338.75,461.20 L339.79,461.39 L340.82,461.57 L341.85,461.75 L342.88,461.92 L343.91,462.10 L344.95,462.27 L345.98,462.43 L347.01,462.60 L348.04,462.76 L349.07,462.92 L350.11,463.08 L351.14,463.23 L352.17,463.38 L353.20,463.53 L354.24,463.68 L355.27,463.82 L356.30,463.96 L357.33,464.10 L358.36,464.24 L359.40,464.38 L360.43,464.52 L361.46,464.66 L362.49,464.79 L363.52,464.93 L364.56,465.06 L365.59,465.20 L366.62,465.33 L367.65,465.46 L368.68,465.59 L369.72,465.72 L370.75,465.84 L371.78,465.97 L372.81,466.09 L373.84,466.21 L374.88,466.33 L375.91,466.45 L376.94,466.57 L377.97,466.69 L379.01,466.80 L380.04,466.92 L381.07,467.03 L382.10,467.14 L383.13,467.24 L384.17,467.35 L385.20,467.45 L386.23,467.56 L387.26,467.66 L388.29,467.75 L389.33,467.85 L390.36,467.94 L391.39,468.03 L392.42,468.12 L393.45,468.21 L394.49,468.30 L395.52,468.38 L396.55,468.46 L397.58,468.54 L398.61,468.61 L399.65,468.69 L400.68,468.76 L401.71,468.84 L402.74,468.91 L403.78,468.98 L404.81,469.05 L405.84,469.12 L406.87,469.18 L407.90,469.25 L408.94,469.32 L409.97,469.38 L411.00,469.44 L412.03,469.51 L413.06,469.57 L414.10,469.63 L415.13,469.69 L416.16,469.75 L417.19,469.80 L418.22,469.86 L419.26,469.92 L420.29,469.97 L421.32,470.03 L422.35,470.08 L423.38,470.14 L424.42,470.19 L425.45,470.24 L426.48,470.29 L427.51,470.34 L428.55,470.40 L429.58,470.44 L430.61,470.49 L431.64,470.54 L432.67,470.59 L433.71,470.64 L434.74,470.69 L435.77,470.73 L436.80,470.78 L437.83,470.83 L438.87,470.87 L439.90,470.92 L440.93,470.96 L441.96,471.01 L442.99,471.05 L444.03,471.09 L445.06,471.13 L446.09,471.18 L447.12,471.22 L448.15,471.26 L449.19,471.30 L450.22,471.34 L451.25,471.38 L452.28,471.42 L453.32,471.46 L454.35,471.49 L455.38,471.53 L456.41,471.57 L457.44,471.60 L458.48,471.64 L459.51,471.67 L460.54,471.70 L461.57,471.74 L462.60,471.77 L463.64,471.80 L464.67,471.83 L465.70,471.86" fill="none" stroke="#111" stroke-width="1.8"/>
<path d="M53.9,279.9 H465.7 V483.9" fill="none" stroke="#6a6a6a" stroke-width="1.5"/>
<path d="M53.9,279.9 V483.9 H465.7" fill="none" stroke="#6a6a6a" stroke-width="1.6"/>
<line x1="53.9" y1="279.9" x2="80.0" y2="279.9" stroke="#111" stroke-width="2"/>
<line x1="50.2" y1="483.9" x2="53.9" y2="483.9" stroke="#4a4a4a" stroke-width="1.1"/>
<text x="43.3" y="488.4" font-size="12.5" text-anchor="end" textLength="6.9" lengthAdjust="spacingAndGlyphs">0</text>
<line x1="50.2" y1="443.1" x2="53.9" y2="443.1" stroke="#4a4a4a" stroke-width="1.1"/>
<text x="43.3" y="447.6" font-size="12.5" text-anchor="end" textLength="13.8" lengthAdjust="spacingAndGlyphs">20</text>
<line x1="50.2" y1="402.3" x2="53.9" y2="402.3" stroke="#4a4a4a" stroke-width="1.1"/>
<text x="43.3" y="406.8" font-size="12.5" text-anchor="end" textLength="13.8" lengthAdjust="spacingAndGlyphs">40</text>
<line x1="50.2" y1="361.5" x2="53.9" y2="361.5" stroke="#4a4a4a" stroke-width="1.1"/>
<text x="43.3" y="366.0" font-size="12.5" text-anchor="end" textLength="13.8" lengthAdjust="spacingAndGlyphs">60</text>
<line x1="50.2" y1="320.7" x2="53.9" y2="320.7" stroke="#4a4a4a" stroke-width="1.1"/>
<text x="43.3" y="325.2" font-size="12.5" text-anchor="end" textLength="13.8" lengthAdjust="spacingAndGlyphs">80</text>
<line x1="50.2" y1="279.9" x2="53.9" y2="279.9" stroke="#4a4a4a" stroke-width="1.1"/>
<text x="43.3" y="284.4" font-size="12.5" text-anchor="end" textLength="20.7" lengthAdjust="spacingAndGlyphs">100</text>
<line x1="53.9" y1="483.9" x2="53.9" y2="487.6" stroke="#4a4a4a" stroke-width="1.1"/>
<text x="53.9" y="503.2" font-size="13.5" text-anchor="middle">0</text>
<line x1="191.2" y1="483.9" x2="191.2" y2="487.6" stroke="#4a4a4a" stroke-width="1.1"/>
<text x="191.2" y="503.2" font-size="13.5" text-anchor="middle">0.5</text>
<line x1="328.4" y1="483.9" x2="328.4" y2="487.6" stroke="#4a4a4a" stroke-width="1.1"/>
<text x="328.4" y="503.2" font-size="13.5" text-anchor="middle">1</text>
<line x1="465.7" y1="483.9" x2="465.7" y2="487.6" stroke="#4a4a4a" stroke-width="1.1"/>
<text x="465.7" y="503.2" font-size="13.5" text-anchor="middle">1.5</text>
<text x="238.7" y="520.6" font-size="14.5" textLength="45.6" lengthAdjust="spacingAndGlyphs">PGA (g)</text>
<text x="232.5" y="540.6" font-size="14" font-weight="bold" stroke-width="0" textLength="17.4" lengthAdjust="spacingAndGlyphs">(d)</text>
<text transform="translate(21.8,449) rotate(-90)" font-size="14.5" textLength="123" lengthAdjust="spacingAndGlyphs">Resilience index (%)</text>
<rect x="61.2" y="363.8" width="75.9" height="111.7" fill="#fff" stroke="#6a6a6a" stroke-width="1.3"/>
<line x1="65.3" y1="373.0" x2="92.2" y2="373.0" fill="none" stroke="#9c9c9c" stroke-width="1.5"/>
<text x="95.1" y="376.7" font-size="10.5" fill="#2b2b2b" stroke="#2b2b2b" textLength="33.0" lengthAdjust="spacingAndGlyphs">Short-0°</text>
<line x1="65.3" y1="391.6" x2="92.2" y2="391.6" fill="none" stroke="#9c9c9c" stroke-width="1.5" stroke-dasharray="12,4.8"/>
<text x="95.1" y="395.3" font-size="10.5" fill="#2b2b2b" stroke="#2b2b2b" textLength="37.1" lengthAdjust="spacingAndGlyphs">Short-45°</text>
<line x1="65.3" y1="410.3" x2="92.2" y2="410.3" fill="none" stroke="#9c9c9c" stroke-width="1.5" stroke-dasharray="5.9,4.9"/>
<text x="95.1" y="414.0" font-size="10.5" fill="#2b2b2b" stroke="#2b2b2b" textLength="38.1" lengthAdjust="spacingAndGlyphs">Short-90°</text>
<line x1="65.3" y1="428.9" x2="92.2" y2="428.9" fill="none" stroke="#111" stroke-width="2.0"/>
<text x="95.1" y="432.6" font-size="10.5" fill="#2b2b2b" stroke="#2b2b2b" textLength="30.9" lengthAdjust="spacingAndGlyphs">Long-0°</text>
<line x1="65.3" y1="447.6" x2="92.2" y2="447.6" fill="none" stroke="#111" stroke-width="2.0" stroke-dasharray="12,4.8"/>
<text x="95.1" y="451.3" font-size="10.5" fill="#2b2b2b" stroke="#2b2b2b" textLength="36.2" lengthAdjust="spacingAndGlyphs">Long-45°</text>
<line x1="65.3" y1="466.2" x2="92.2" y2="466.2" fill="none" stroke="#111" stroke-width="2.0" stroke-dasharray="5.9,4.9"/>
<text x="95.1" y="469.9" font-size="10.5" fill="#2b2b2b" stroke="#2b2b2b" textLength="36.2" lengthAdjust="spacingAndGlyphs">Long-90°</text>
</g>
</g>
</svg></body></html>
